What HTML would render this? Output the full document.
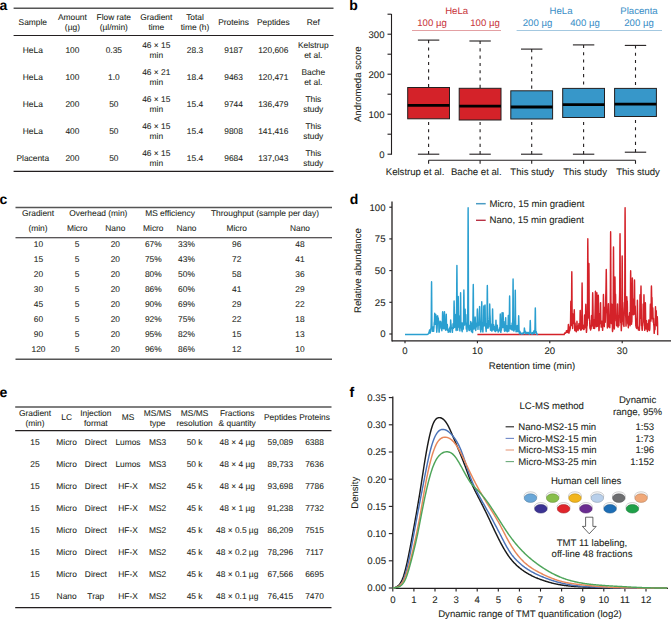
<!DOCTYPE html>
<html><head><meta charset="utf-8"><style>
html,body{margin:0;padding:0;background:#fff;}
svg text{text-rendering:geometricPrecision;} svg{display:block;font-family:"Liberation Sans", sans-serif;}
</style></head><body>
<svg width="671" height="619" viewBox="0 0 671 619">
<text x="-0.60" y="9.70" font-size="14" font-weight="bold" fill="#000">a</text>
<text x="349.20" y="9.80" font-size="14" font-weight="bold" fill="#000">b</text>
<text x="-0.50" y="203.70" font-size="14" font-weight="bold" fill="#000">c</text>
<text x="349.70" y="203.70" font-size="14" font-weight="bold" fill="#000">d</text>
<text x="-0.50" y="396.50" font-size="14" font-weight="bold" fill="#000">e</text>
<text x="349.50" y="396.70" font-size="14" font-weight="bold" fill="#000">f</text>
<line x1="13.60" y1="8.20" x2="333.50" y2="8.20" stroke="#555" stroke-width="1.5"/>
<line x1="13.60" y1="35.50" x2="333.50" y2="35.50" stroke="#231f20" stroke-width="1.1"/>
<line x1="13.60" y1="171.40" x2="333.50" y2="171.40" stroke="#231f20" stroke-width="1.1"/>
<text x="32.80" y="25.00" font-size="8.4" text-anchor="middle" fill="#231f20" stroke="#231f20" stroke-width="0.08">Sample</text>
<text x="72.40" y="20.00" font-size="8.4" text-anchor="middle" fill="#231f20" stroke="#231f20" stroke-width="0.08">Amount</text>
<text x="72.40" y="30.00" font-size="8.4" text-anchor="middle" fill="#231f20" stroke="#231f20" stroke-width="0.08">(µg)</text>
<text x="113.80" y="20.00" font-size="8.4" text-anchor="middle" fill="#231f20" stroke="#231f20" stroke-width="0.08">Flow rate</text>
<text x="113.80" y="30.00" font-size="8.4" text-anchor="middle" fill="#231f20" stroke="#231f20" stroke-width="0.08">(µl/min)</text>
<text x="156.30" y="20.00" font-size="8.4" text-anchor="middle" fill="#231f20" stroke="#231f20" stroke-width="0.08">Gradient</text>
<text x="156.30" y="30.00" font-size="8.4" text-anchor="middle" fill="#231f20" stroke="#231f20" stroke-width="0.08">time</text>
<text x="195.00" y="20.00" font-size="8.4" text-anchor="middle" fill="#231f20" stroke="#231f20" stroke-width="0.08">Total</text>
<text x="195.00" y="30.00" font-size="8.4" text-anchor="middle" fill="#231f20" stroke="#231f20" stroke-width="0.08">time (h)</text>
<text x="233.60" y="25.00" font-size="8.4" text-anchor="middle" fill="#231f20" stroke="#231f20" stroke-width="0.08">Proteins</text>
<text x="273.30" y="25.00" font-size="8.4" text-anchor="middle" fill="#231f20" stroke="#231f20" stroke-width="0.08">Peptides</text>
<text x="313.30" y="25.00" font-size="8.4" text-anchor="middle" fill="#231f20" stroke="#231f20" stroke-width="0.08">Ref</text>
<text x="32.80" y="52.90" font-size="8.4" text-anchor="middle" fill="#231f20" stroke="#231f20" stroke-width="0.08">HeLa</text>
<text x="72.40" y="52.90" font-size="8.4" text-anchor="middle" fill="#231f20" stroke="#231f20" stroke-width="0.08">100</text>
<text x="113.80" y="52.90" font-size="8.4" text-anchor="middle" fill="#231f20" stroke="#231f20" stroke-width="0.08">0.35</text>
<text x="156.30" y="47.90" font-size="8.4" text-anchor="middle" fill="#231f20" stroke="#231f20" stroke-width="0.08">46 × 15</text>
<text x="156.30" y="57.90" font-size="8.4" text-anchor="middle" fill="#231f20" stroke="#231f20" stroke-width="0.08">min</text>
<text x="195.00" y="52.90" font-size="8.4" text-anchor="middle" fill="#231f20" stroke="#231f20" stroke-width="0.08">28.3</text>
<text x="233.60" y="52.90" font-size="8.4" text-anchor="middle" fill="#231f20" stroke="#231f20" stroke-width="0.08">9187</text>
<text x="273.30" y="52.90" font-size="8.4" text-anchor="middle" fill="#231f20" stroke="#231f20" stroke-width="0.08">120,606</text>
<text x="313.30" y="47.90" font-size="8.4" text-anchor="middle" fill="#231f20" stroke="#231f20" stroke-width="0.08">Kelstrup</text>
<text x="313.30" y="57.90" font-size="8.4" text-anchor="middle" fill="#231f20" stroke="#231f20" stroke-width="0.08">et al.</text>
<text x="32.80" y="79.90" font-size="8.4" text-anchor="middle" fill="#231f20" stroke="#231f20" stroke-width="0.08">HeLa</text>
<text x="72.40" y="79.90" font-size="8.4" text-anchor="middle" fill="#231f20" stroke="#231f20" stroke-width="0.08">100</text>
<text x="113.80" y="79.90" font-size="8.4" text-anchor="middle" fill="#231f20" stroke="#231f20" stroke-width="0.08">1.0</text>
<text x="156.30" y="74.90" font-size="8.4" text-anchor="middle" fill="#231f20" stroke="#231f20" stroke-width="0.08">46 × 21</text>
<text x="156.30" y="84.90" font-size="8.4" text-anchor="middle" fill="#231f20" stroke="#231f20" stroke-width="0.08">min</text>
<text x="195.00" y="79.90" font-size="8.4" text-anchor="middle" fill="#231f20" stroke="#231f20" stroke-width="0.08">18.4</text>
<text x="233.60" y="79.90" font-size="8.4" text-anchor="middle" fill="#231f20" stroke="#231f20" stroke-width="0.08">9463</text>
<text x="273.30" y="79.90" font-size="8.4" text-anchor="middle" fill="#231f20" stroke="#231f20" stroke-width="0.08">120,471</text>
<text x="313.30" y="74.90" font-size="8.4" text-anchor="middle" fill="#231f20" stroke="#231f20" stroke-width="0.08">Bache</text>
<text x="313.30" y="84.90" font-size="8.4" text-anchor="middle" fill="#231f20" stroke="#231f20" stroke-width="0.08">et al.</text>
<text x="32.80" y="106.80" font-size="8.4" text-anchor="middle" fill="#231f20" stroke="#231f20" stroke-width="0.08">HeLa</text>
<text x="72.40" y="106.80" font-size="8.4" text-anchor="middle" fill="#231f20" stroke="#231f20" stroke-width="0.08">200</text>
<text x="113.80" y="106.80" font-size="8.4" text-anchor="middle" fill="#231f20" stroke="#231f20" stroke-width="0.08">50</text>
<text x="156.30" y="101.80" font-size="8.4" text-anchor="middle" fill="#231f20" stroke="#231f20" stroke-width="0.08">46 × 15</text>
<text x="156.30" y="111.80" font-size="8.4" text-anchor="middle" fill="#231f20" stroke="#231f20" stroke-width="0.08">min</text>
<text x="195.00" y="106.80" font-size="8.4" text-anchor="middle" fill="#231f20" stroke="#231f20" stroke-width="0.08">15.4</text>
<text x="233.60" y="106.80" font-size="8.4" text-anchor="middle" fill="#231f20" stroke="#231f20" stroke-width="0.08">9744</text>
<text x="273.30" y="106.80" font-size="8.4" text-anchor="middle" fill="#231f20" stroke="#231f20" stroke-width="0.08">136,479</text>
<text x="313.30" y="101.80" font-size="8.4" text-anchor="middle" fill="#231f20" stroke="#231f20" stroke-width="0.08">This</text>
<text x="313.30" y="111.80" font-size="8.4" text-anchor="middle" fill="#231f20" stroke="#231f20" stroke-width="0.08">study</text>
<text x="32.80" y="133.80" font-size="8.4" text-anchor="middle" fill="#231f20" stroke="#231f20" stroke-width="0.08">HeLa</text>
<text x="72.40" y="133.80" font-size="8.4" text-anchor="middle" fill="#231f20" stroke="#231f20" stroke-width="0.08">400</text>
<text x="113.80" y="133.80" font-size="8.4" text-anchor="middle" fill="#231f20" stroke="#231f20" stroke-width="0.08">50</text>
<text x="156.30" y="128.80" font-size="8.4" text-anchor="middle" fill="#231f20" stroke="#231f20" stroke-width="0.08">46 × 15</text>
<text x="156.30" y="138.80" font-size="8.4" text-anchor="middle" fill="#231f20" stroke="#231f20" stroke-width="0.08">min</text>
<text x="195.00" y="133.80" font-size="8.4" text-anchor="middle" fill="#231f20" stroke="#231f20" stroke-width="0.08">15.4</text>
<text x="233.60" y="133.80" font-size="8.4" text-anchor="middle" fill="#231f20" stroke="#231f20" stroke-width="0.08">9808</text>
<text x="273.30" y="133.80" font-size="8.4" text-anchor="middle" fill="#231f20" stroke="#231f20" stroke-width="0.08">141,416</text>
<text x="313.30" y="128.80" font-size="8.4" text-anchor="middle" fill="#231f20" stroke="#231f20" stroke-width="0.08">This</text>
<text x="313.30" y="138.80" font-size="8.4" text-anchor="middle" fill="#231f20" stroke="#231f20" stroke-width="0.08">study</text>
<text x="32.80" y="160.80" font-size="8.4" text-anchor="middle" fill="#231f20" stroke="#231f20" stroke-width="0.08">Placenta</text>
<text x="72.40" y="160.80" font-size="8.4" text-anchor="middle" fill="#231f20" stroke="#231f20" stroke-width="0.08">200</text>
<text x="113.80" y="160.80" font-size="8.4" text-anchor="middle" fill="#231f20" stroke="#231f20" stroke-width="0.08">50</text>
<text x="156.30" y="155.80" font-size="8.4" text-anchor="middle" fill="#231f20" stroke="#231f20" stroke-width="0.08">46 × 15</text>
<text x="156.30" y="165.80" font-size="8.4" text-anchor="middle" fill="#231f20" stroke="#231f20" stroke-width="0.08">min</text>
<text x="195.00" y="160.80" font-size="8.4" text-anchor="middle" fill="#231f20" stroke="#231f20" stroke-width="0.08">15.4</text>
<text x="233.60" y="160.80" font-size="8.4" text-anchor="middle" fill="#231f20" stroke="#231f20" stroke-width="0.08">9684</text>
<text x="273.30" y="160.80" font-size="8.4" text-anchor="middle" fill="#231f20" stroke="#231f20" stroke-width="0.08">137,043</text>
<text x="313.30" y="155.80" font-size="8.4" text-anchor="middle" fill="#231f20" stroke="#231f20" stroke-width="0.08">This</text>
<text x="313.30" y="165.80" font-size="8.4" text-anchor="middle" fill="#231f20" stroke="#231f20" stroke-width="0.08">study</text>
<line x1="15.50" y1="207.50" x2="332.00" y2="207.50" stroke="#555" stroke-width="1.5"/>
<line x1="15.50" y1="237.80" x2="332.00" y2="237.80" stroke="#231f20" stroke-width="1.1"/>
<line x1="15.50" y1="359.20" x2="332.00" y2="359.20" stroke="#555" stroke-width="1.5"/>
<text x="38.00" y="215.90" font-size="8.4" text-anchor="middle" fill="#231f20" stroke="#231f20" stroke-width="0.08">Gradient</text>
<text x="38.00" y="231.00" font-size="8.4" text-anchor="middle" fill="#231f20" stroke="#231f20" stroke-width="0.08">(min)</text>
<text x="98.30" y="215.90" font-size="8.4" text-anchor="middle" fill="#231f20" stroke="#231f20" stroke-width="0.08">Overhead (min)</text>
<text x="170.00" y="215.90" font-size="8.4" text-anchor="middle" fill="#231f20" stroke="#231f20" stroke-width="0.08">MS efficiency</text>
<text x="265.00" y="215.90" font-size="8.4" text-anchor="middle" fill="#231f20" stroke="#231f20" stroke-width="0.08">Throughput (sample per day)</text>
<text x="77.20" y="231.00" font-size="8.4" text-anchor="middle" fill="#231f20" stroke="#231f20" stroke-width="0.08">Micro</text>
<text x="115.30" y="231.00" font-size="8.4" text-anchor="middle" fill="#231f20" stroke="#231f20" stroke-width="0.08">Nano</text>
<text x="153.30" y="231.00" font-size="8.4" text-anchor="middle" fill="#231f20" stroke="#231f20" stroke-width="0.08">Micro</text>
<text x="186.50" y="231.00" font-size="8.4" text-anchor="middle" fill="#231f20" stroke="#231f20" stroke-width="0.08">Nano</text>
<text x="236.70" y="231.00" font-size="8.4" text-anchor="middle" fill="#231f20" stroke="#231f20" stroke-width="0.08">Micro</text>
<text x="300.00" y="231.00" font-size="8.4" text-anchor="middle" fill="#231f20" stroke="#231f20" stroke-width="0.08">Nano</text>
<text x="38.50" y="246.60" font-size="8.4" text-anchor="middle" fill="#231f20" stroke="#231f20" stroke-width="0.08">10</text>
<text x="77.20" y="246.60" font-size="8.4" text-anchor="middle" fill="#231f20" stroke="#231f20" stroke-width="0.08">5</text>
<text x="115.30" y="246.60" font-size="8.4" text-anchor="middle" fill="#231f20" stroke="#231f20" stroke-width="0.08">20</text>
<text x="153.30" y="246.60" font-size="8.4" text-anchor="middle" fill="#231f20" stroke="#231f20" stroke-width="0.08">67%</text>
<text x="186.50" y="246.60" font-size="8.4" text-anchor="middle" fill="#231f20" stroke="#231f20" stroke-width="0.08">33%</text>
<text x="236.70" y="246.60" font-size="8.4" text-anchor="middle" fill="#231f20" stroke="#231f20" stroke-width="0.08">96</text>
<text x="300.00" y="246.60" font-size="8.4" text-anchor="middle" fill="#231f20" stroke="#231f20" stroke-width="0.08">48</text>
<text x="38.50" y="261.70" font-size="8.4" text-anchor="middle" fill="#231f20" stroke="#231f20" stroke-width="0.08">15</text>
<text x="77.20" y="261.70" font-size="8.4" text-anchor="middle" fill="#231f20" stroke="#231f20" stroke-width="0.08">5</text>
<text x="115.30" y="261.70" font-size="8.4" text-anchor="middle" fill="#231f20" stroke="#231f20" stroke-width="0.08">20</text>
<text x="153.30" y="261.70" font-size="8.4" text-anchor="middle" fill="#231f20" stroke="#231f20" stroke-width="0.08">75%</text>
<text x="186.50" y="261.70" font-size="8.4" text-anchor="middle" fill="#231f20" stroke="#231f20" stroke-width="0.08">43%</text>
<text x="236.70" y="261.70" font-size="8.4" text-anchor="middle" fill="#231f20" stroke="#231f20" stroke-width="0.08">72</text>
<text x="300.00" y="261.70" font-size="8.4" text-anchor="middle" fill="#231f20" stroke="#231f20" stroke-width="0.08">41</text>
<text x="38.50" y="276.80" font-size="8.4" text-anchor="middle" fill="#231f20" stroke="#231f20" stroke-width="0.08">20</text>
<text x="77.20" y="276.80" font-size="8.4" text-anchor="middle" fill="#231f20" stroke="#231f20" stroke-width="0.08">5</text>
<text x="115.30" y="276.80" font-size="8.4" text-anchor="middle" fill="#231f20" stroke="#231f20" stroke-width="0.08">20</text>
<text x="153.30" y="276.80" font-size="8.4" text-anchor="middle" fill="#231f20" stroke="#231f20" stroke-width="0.08">80%</text>
<text x="186.50" y="276.80" font-size="8.4" text-anchor="middle" fill="#231f20" stroke="#231f20" stroke-width="0.08">50%</text>
<text x="236.70" y="276.80" font-size="8.4" text-anchor="middle" fill="#231f20" stroke="#231f20" stroke-width="0.08">58</text>
<text x="300.00" y="276.80" font-size="8.4" text-anchor="middle" fill="#231f20" stroke="#231f20" stroke-width="0.08">36</text>
<text x="38.50" y="291.90" font-size="8.4" text-anchor="middle" fill="#231f20" stroke="#231f20" stroke-width="0.08">30</text>
<text x="77.20" y="291.90" font-size="8.4" text-anchor="middle" fill="#231f20" stroke="#231f20" stroke-width="0.08">5</text>
<text x="115.30" y="291.90" font-size="8.4" text-anchor="middle" fill="#231f20" stroke="#231f20" stroke-width="0.08">20</text>
<text x="153.30" y="291.90" font-size="8.4" text-anchor="middle" fill="#231f20" stroke="#231f20" stroke-width="0.08">86%</text>
<text x="186.50" y="291.90" font-size="8.4" text-anchor="middle" fill="#231f20" stroke="#231f20" stroke-width="0.08">60%</text>
<text x="236.70" y="291.90" font-size="8.4" text-anchor="middle" fill="#231f20" stroke="#231f20" stroke-width="0.08">41</text>
<text x="300.00" y="291.90" font-size="8.4" text-anchor="middle" fill="#231f20" stroke="#231f20" stroke-width="0.08">29</text>
<text x="38.50" y="307.00" font-size="8.4" text-anchor="middle" fill="#231f20" stroke="#231f20" stroke-width="0.08">45</text>
<text x="77.20" y="307.00" font-size="8.4" text-anchor="middle" fill="#231f20" stroke="#231f20" stroke-width="0.08">5</text>
<text x="115.30" y="307.00" font-size="8.4" text-anchor="middle" fill="#231f20" stroke="#231f20" stroke-width="0.08">20</text>
<text x="153.30" y="307.00" font-size="8.4" text-anchor="middle" fill="#231f20" stroke="#231f20" stroke-width="0.08">90%</text>
<text x="186.50" y="307.00" font-size="8.4" text-anchor="middle" fill="#231f20" stroke="#231f20" stroke-width="0.08">69%</text>
<text x="236.70" y="307.00" font-size="8.4" text-anchor="middle" fill="#231f20" stroke="#231f20" stroke-width="0.08">29</text>
<text x="300.00" y="307.00" font-size="8.4" text-anchor="middle" fill="#231f20" stroke="#231f20" stroke-width="0.08">22</text>
<text x="38.50" y="322.10" font-size="8.4" text-anchor="middle" fill="#231f20" stroke="#231f20" stroke-width="0.08">60</text>
<text x="77.20" y="322.10" font-size="8.4" text-anchor="middle" fill="#231f20" stroke="#231f20" stroke-width="0.08">5</text>
<text x="115.30" y="322.10" font-size="8.4" text-anchor="middle" fill="#231f20" stroke="#231f20" stroke-width="0.08">20</text>
<text x="153.30" y="322.10" font-size="8.4" text-anchor="middle" fill="#231f20" stroke="#231f20" stroke-width="0.08">92%</text>
<text x="186.50" y="322.10" font-size="8.4" text-anchor="middle" fill="#231f20" stroke="#231f20" stroke-width="0.08">75%</text>
<text x="236.70" y="322.10" font-size="8.4" text-anchor="middle" fill="#231f20" stroke="#231f20" stroke-width="0.08">22</text>
<text x="300.00" y="322.10" font-size="8.4" text-anchor="middle" fill="#231f20" stroke="#231f20" stroke-width="0.08">18</text>
<text x="38.50" y="337.20" font-size="8.4" text-anchor="middle" fill="#231f20" stroke="#231f20" stroke-width="0.08">90</text>
<text x="77.20" y="337.20" font-size="8.4" text-anchor="middle" fill="#231f20" stroke="#231f20" stroke-width="0.08">5</text>
<text x="115.30" y="337.20" font-size="8.4" text-anchor="middle" fill="#231f20" stroke="#231f20" stroke-width="0.08">20</text>
<text x="153.30" y="337.20" font-size="8.4" text-anchor="middle" fill="#231f20" stroke="#231f20" stroke-width="0.08">95%</text>
<text x="186.50" y="337.20" font-size="8.4" text-anchor="middle" fill="#231f20" stroke="#231f20" stroke-width="0.08">82%</text>
<text x="236.70" y="337.20" font-size="8.4" text-anchor="middle" fill="#231f20" stroke="#231f20" stroke-width="0.08">15</text>
<text x="300.00" y="337.20" font-size="8.4" text-anchor="middle" fill="#231f20" stroke="#231f20" stroke-width="0.08">13</text>
<text x="38.50" y="352.30" font-size="8.4" text-anchor="middle" fill="#231f20" stroke="#231f20" stroke-width="0.08">120</text>
<text x="77.20" y="352.30" font-size="8.4" text-anchor="middle" fill="#231f20" stroke="#231f20" stroke-width="0.08">5</text>
<text x="115.30" y="352.30" font-size="8.4" text-anchor="middle" fill="#231f20" stroke="#231f20" stroke-width="0.08">20</text>
<text x="153.30" y="352.30" font-size="8.4" text-anchor="middle" fill="#231f20" stroke="#231f20" stroke-width="0.08">96%</text>
<text x="186.50" y="352.30" font-size="8.4" text-anchor="middle" fill="#231f20" stroke="#231f20" stroke-width="0.08">86%</text>
<text x="236.70" y="352.30" font-size="8.4" text-anchor="middle" fill="#231f20" stroke="#231f20" stroke-width="0.08">12</text>
<text x="300.00" y="352.30" font-size="8.4" text-anchor="middle" fill="#231f20" stroke="#231f20" stroke-width="0.08">10</text>
<line x1="15.20" y1="407.00" x2="331.50" y2="407.00" stroke="#555" stroke-width="1.5"/>
<line x1="15.20" y1="430.60" x2="331.50" y2="430.60" stroke="#231f20" stroke-width="1.1"/>
<line x1="15.20" y1="607.60" x2="331.50" y2="607.60" stroke="#231f20" stroke-width="1.1"/>
<text x="35.00" y="416.30" font-size="8.4" text-anchor="middle" fill="#231f20" stroke="#231f20" stroke-width="0.08">Gradient</text>
<text x="35.00" y="426.00" font-size="8.4" text-anchor="middle" fill="#231f20" stroke="#231f20" stroke-width="0.08">(min)</text>
<text x="66.60" y="420.30" font-size="8.4" text-anchor="middle" fill="#231f20" stroke="#231f20" stroke-width="0.08">LC</text>
<text x="95.80" y="416.30" font-size="8.4" text-anchor="middle" fill="#231f20" stroke="#231f20" stroke-width="0.08">Injection</text>
<text x="95.80" y="426.00" font-size="8.4" text-anchor="middle" fill="#231f20" stroke="#231f20" stroke-width="0.08">format</text>
<text x="128.00" y="420.30" font-size="8.4" text-anchor="middle" fill="#231f20" stroke="#231f20" stroke-width="0.08">MS</text>
<text x="157.60" y="416.30" font-size="8.4" text-anchor="middle" fill="#231f20" stroke="#231f20" stroke-width="0.08">MS/MS</text>
<text x="157.60" y="426.00" font-size="8.4" text-anchor="middle" fill="#231f20" stroke="#231f20" stroke-width="0.08">type</text>
<text x="194.60" y="416.30" font-size="8.4" text-anchor="middle" fill="#231f20" stroke="#231f20" stroke-width="0.08">MS/MS</text>
<text x="194.60" y="426.00" font-size="8.4" text-anchor="middle" fill="#231f20" stroke="#231f20" stroke-width="0.08">resolution</text>
<text x="237.20" y="416.30" font-size="8.4" text-anchor="middle" fill="#231f20" stroke="#231f20" stroke-width="0.08">Fractions</text>
<text x="237.20" y="426.00" font-size="8.4" text-anchor="middle" fill="#231f20" stroke="#231f20" stroke-width="0.08">& quantity</text>
<text x="280.30" y="420.30" font-size="8.4" text-anchor="middle" fill="#231f20" stroke="#231f20" stroke-width="0.08">Peptides</text>
<text x="314.50" y="420.30" font-size="8.4" text-anchor="middle" fill="#231f20" stroke="#231f20" stroke-width="0.08">Proteins</text>
<text x="35.00" y="444.70" font-size="8.4" text-anchor="middle" fill="#231f20" stroke="#231f20" stroke-width="0.08">15</text>
<text x="66.60" y="444.70" font-size="8.4" text-anchor="middle" fill="#231f20" stroke="#231f20" stroke-width="0.08">Micro</text>
<text x="95.80" y="444.70" font-size="8.4" text-anchor="middle" fill="#231f20" stroke="#231f20" stroke-width="0.08">Direct</text>
<text x="128.00" y="444.70" font-size="8.4" text-anchor="middle" fill="#231f20" stroke="#231f20" stroke-width="0.08">Lumos</text>
<text x="157.60" y="444.70" font-size="8.4" text-anchor="middle" fill="#231f20" stroke="#231f20" stroke-width="0.08">MS3</text>
<text x="194.60" y="444.70" font-size="8.4" text-anchor="middle" fill="#231f20" stroke="#231f20" stroke-width="0.08">50 k</text>
<text x="237.20" y="444.70" font-size="8.4" text-anchor="middle" fill="#231f20" stroke="#231f20" stroke-width="0.08">48 × 4 µg</text>
<text x="280.30" y="444.70" font-size="8.4" text-anchor="middle" fill="#231f20" stroke="#231f20" stroke-width="0.08">59,089</text>
<text x="314.50" y="444.70" font-size="8.4" text-anchor="middle" fill="#231f20" stroke="#231f20" stroke-width="0.08">6388</text>
<text x="35.00" y="466.74" font-size="8.4" text-anchor="middle" fill="#231f20" stroke="#231f20" stroke-width="0.08">25</text>
<text x="66.60" y="466.74" font-size="8.4" text-anchor="middle" fill="#231f20" stroke="#231f20" stroke-width="0.08">Micro</text>
<text x="95.80" y="466.74" font-size="8.4" text-anchor="middle" fill="#231f20" stroke="#231f20" stroke-width="0.08">Direct</text>
<text x="128.00" y="466.74" font-size="8.4" text-anchor="middle" fill="#231f20" stroke="#231f20" stroke-width="0.08">Lumos</text>
<text x="157.60" y="466.74" font-size="8.4" text-anchor="middle" fill="#231f20" stroke="#231f20" stroke-width="0.08">MS3</text>
<text x="194.60" y="466.74" font-size="8.4" text-anchor="middle" fill="#231f20" stroke="#231f20" stroke-width="0.08">50 k</text>
<text x="237.20" y="466.74" font-size="8.4" text-anchor="middle" fill="#231f20" stroke="#231f20" stroke-width="0.08">48 × 4 µg</text>
<text x="280.30" y="466.74" font-size="8.4" text-anchor="middle" fill="#231f20" stroke="#231f20" stroke-width="0.08">89,733</text>
<text x="314.50" y="466.74" font-size="8.4" text-anchor="middle" fill="#231f20" stroke="#231f20" stroke-width="0.08">7636</text>
<text x="35.00" y="488.78" font-size="8.4" text-anchor="middle" fill="#231f20" stroke="#231f20" stroke-width="0.08">15</text>
<text x="66.60" y="488.78" font-size="8.4" text-anchor="middle" fill="#231f20" stroke="#231f20" stroke-width="0.08">Micro</text>
<text x="95.80" y="488.78" font-size="8.4" text-anchor="middle" fill="#231f20" stroke="#231f20" stroke-width="0.08">Direct</text>
<text x="128.00" y="488.78" font-size="8.4" text-anchor="middle" fill="#231f20" stroke="#231f20" stroke-width="0.08">HF-X</text>
<text x="157.60" y="488.78" font-size="8.4" text-anchor="middle" fill="#231f20" stroke="#231f20" stroke-width="0.08">MS2</text>
<text x="194.60" y="488.78" font-size="8.4" text-anchor="middle" fill="#231f20" stroke="#231f20" stroke-width="0.08">45 k</text>
<text x="237.20" y="488.78" font-size="8.4" text-anchor="middle" fill="#231f20" stroke="#231f20" stroke-width="0.08">48 × 4 µg</text>
<text x="280.30" y="488.78" font-size="8.4" text-anchor="middle" fill="#231f20" stroke="#231f20" stroke-width="0.08">93,698</text>
<text x="314.50" y="488.78" font-size="8.4" text-anchor="middle" fill="#231f20" stroke="#231f20" stroke-width="0.08">7786</text>
<text x="35.00" y="510.82" font-size="8.4" text-anchor="middle" fill="#231f20" stroke="#231f20" stroke-width="0.08">15</text>
<text x="66.60" y="510.82" font-size="8.4" text-anchor="middle" fill="#231f20" stroke="#231f20" stroke-width="0.08">Micro</text>
<text x="95.80" y="510.82" font-size="8.4" text-anchor="middle" fill="#231f20" stroke="#231f20" stroke-width="0.08">Direct</text>
<text x="128.00" y="510.82" font-size="8.4" text-anchor="middle" fill="#231f20" stroke="#231f20" stroke-width="0.08">HF-X</text>
<text x="157.60" y="510.82" font-size="8.4" text-anchor="middle" fill="#231f20" stroke="#231f20" stroke-width="0.08">MS2</text>
<text x="194.60" y="510.82" font-size="8.4" text-anchor="middle" fill="#231f20" stroke="#231f20" stroke-width="0.08">45 k</text>
<text x="237.20" y="510.82" font-size="8.4" text-anchor="middle" fill="#231f20" stroke="#231f20" stroke-width="0.08">48 × 1 µg</text>
<text x="280.30" y="510.82" font-size="8.4" text-anchor="middle" fill="#231f20" stroke="#231f20" stroke-width="0.08">91,238</text>
<text x="314.50" y="510.82" font-size="8.4" text-anchor="middle" fill="#231f20" stroke="#231f20" stroke-width="0.08">7732</text>
<text x="35.00" y="532.86" font-size="8.4" text-anchor="middle" fill="#231f20" stroke="#231f20" stroke-width="0.08">15</text>
<text x="66.60" y="532.86" font-size="8.4" text-anchor="middle" fill="#231f20" stroke="#231f20" stroke-width="0.08">Micro</text>
<text x="95.80" y="532.86" font-size="8.4" text-anchor="middle" fill="#231f20" stroke="#231f20" stroke-width="0.08">Direct</text>
<text x="128.00" y="532.86" font-size="8.4" text-anchor="middle" fill="#231f20" stroke="#231f20" stroke-width="0.08">HF-X</text>
<text x="157.60" y="532.86" font-size="8.4" text-anchor="middle" fill="#231f20" stroke="#231f20" stroke-width="0.08">MS2</text>
<text x="194.60" y="532.86" font-size="8.4" text-anchor="middle" fill="#231f20" stroke="#231f20" stroke-width="0.08">45 k</text>
<text x="237.20" y="532.86" font-size="8.4" text-anchor="middle" fill="#231f20" stroke="#231f20" stroke-width="0.08">48 × 0.5 µg</text>
<text x="280.30" y="532.86" font-size="8.4" text-anchor="middle" fill="#231f20" stroke="#231f20" stroke-width="0.08">86,209</text>
<text x="314.50" y="532.86" font-size="8.4" text-anchor="middle" fill="#231f20" stroke="#231f20" stroke-width="0.08">7515</text>
<text x="35.00" y="554.90" font-size="8.4" text-anchor="middle" fill="#231f20" stroke="#231f20" stroke-width="0.08">15</text>
<text x="66.60" y="554.90" font-size="8.4" text-anchor="middle" fill="#231f20" stroke="#231f20" stroke-width="0.08">Micro</text>
<text x="95.80" y="554.90" font-size="8.4" text-anchor="middle" fill="#231f20" stroke="#231f20" stroke-width="0.08">Direct</text>
<text x="128.00" y="554.90" font-size="8.4" text-anchor="middle" fill="#231f20" stroke="#231f20" stroke-width="0.08">HF-X</text>
<text x="157.60" y="554.90" font-size="8.4" text-anchor="middle" fill="#231f20" stroke="#231f20" stroke-width="0.08">MS2</text>
<text x="194.60" y="554.90" font-size="8.4" text-anchor="middle" fill="#231f20" stroke="#231f20" stroke-width="0.08">45 k</text>
<text x="237.20" y="554.90" font-size="8.4" text-anchor="middle" fill="#231f20" stroke="#231f20" stroke-width="0.08">48 × 0.2 µg</text>
<text x="280.30" y="554.90" font-size="8.4" text-anchor="middle" fill="#231f20" stroke="#231f20" stroke-width="0.08">78,296</text>
<text x="314.50" y="554.90" font-size="8.4" text-anchor="middle" fill="#231f20" stroke="#231f20" stroke-width="0.08">7117</text>
<text x="35.00" y="576.94" font-size="8.4" text-anchor="middle" fill="#231f20" stroke="#231f20" stroke-width="0.08">15</text>
<text x="66.60" y="576.94" font-size="8.4" text-anchor="middle" fill="#231f20" stroke="#231f20" stroke-width="0.08">Micro</text>
<text x="95.80" y="576.94" font-size="8.4" text-anchor="middle" fill="#231f20" stroke="#231f20" stroke-width="0.08">Direct</text>
<text x="128.00" y="576.94" font-size="8.4" text-anchor="middle" fill="#231f20" stroke="#231f20" stroke-width="0.08">HF-X</text>
<text x="157.60" y="576.94" font-size="8.4" text-anchor="middle" fill="#231f20" stroke="#231f20" stroke-width="0.08">MS2</text>
<text x="194.60" y="576.94" font-size="8.4" text-anchor="middle" fill="#231f20" stroke="#231f20" stroke-width="0.08">45 k</text>
<text x="237.20" y="576.94" font-size="8.4" text-anchor="middle" fill="#231f20" stroke="#231f20" stroke-width="0.08">48 × 0.1 µg</text>
<text x="280.30" y="576.94" font-size="8.4" text-anchor="middle" fill="#231f20" stroke="#231f20" stroke-width="0.08">67,566</text>
<text x="314.50" y="576.94" font-size="8.4" text-anchor="middle" fill="#231f20" stroke="#231f20" stroke-width="0.08">6695</text>
<text x="35.00" y="598.98" font-size="8.4" text-anchor="middle" fill="#231f20" stroke="#231f20" stroke-width="0.08">15</text>
<text x="66.60" y="598.98" font-size="8.4" text-anchor="middle" fill="#231f20" stroke="#231f20" stroke-width="0.08">Nano</text>
<text x="95.80" y="598.98" font-size="8.4" text-anchor="middle" fill="#231f20" stroke="#231f20" stroke-width="0.08">Trap</text>
<text x="128.00" y="598.98" font-size="8.4" text-anchor="middle" fill="#231f20" stroke="#231f20" stroke-width="0.08">HF-X</text>
<text x="157.60" y="598.98" font-size="8.4" text-anchor="middle" fill="#231f20" stroke="#231f20" stroke-width="0.08">MS2</text>
<text x="194.60" y="598.98" font-size="8.4" text-anchor="middle" fill="#231f20" stroke="#231f20" stroke-width="0.08">45 k</text>
<text x="237.20" y="598.98" font-size="8.4" text-anchor="middle" fill="#231f20" stroke="#231f20" stroke-width="0.08">48 × 0.1 µg</text>
<text x="280.30" y="598.98" font-size="8.4" text-anchor="middle" fill="#231f20" stroke="#231f20" stroke-width="0.08">76,415</text>
<text x="314.50" y="598.98" font-size="8.4" text-anchor="middle" fill="#231f20" stroke="#231f20" stroke-width="0.08">7470</text>
<line x1="391.50" y1="14.00" x2="391.50" y2="154.70" stroke="#231f20" stroke-width="1.1"/>
<line x1="387.50" y1="154.20" x2="391.50" y2="154.20" stroke="#231f20" stroke-width="1.1"/>
<line x1="387.50" y1="134.20" x2="391.50" y2="134.20" stroke="#231f20" stroke-width="1.1"/>
<line x1="387.50" y1="114.20" x2="391.50" y2="114.20" stroke="#231f20" stroke-width="1.1"/>
<line x1="387.50" y1="94.20" x2="391.50" y2="94.20" stroke="#231f20" stroke-width="1.1"/>
<line x1="387.50" y1="74.20" x2="391.50" y2="74.20" stroke="#231f20" stroke-width="1.1"/>
<line x1="387.50" y1="54.20" x2="391.50" y2="54.20" stroke="#231f20" stroke-width="1.1"/>
<line x1="387.50" y1="34.20" x2="391.50" y2="34.20" stroke="#231f20" stroke-width="1.1"/>
<line x1="387.50" y1="14.20" x2="391.50" y2="14.20" stroke="#231f20" stroke-width="1.1"/>
<text x="384.50" y="157.63" font-size="9.6" text-anchor="end" fill="#231f20" stroke="#231f20" stroke-width="0.08">0</text>
<text x="384.50" y="117.63" font-size="9.6" text-anchor="end" fill="#231f20" stroke="#231f20" stroke-width="0.08">100</text>
<text x="384.50" y="77.63" font-size="9.6" text-anchor="end" fill="#231f20" stroke="#231f20" stroke-width="0.08">200</text>
<text x="384.50" y="37.63" font-size="9.6" text-anchor="end" fill="#231f20" stroke="#231f20" stroke-width="0.08">300</text>
<text x="0.00" y="3.43" font-size="9.6" text-anchor="middle" fill="#231f20" stroke="#231f20" stroke-width="0.08"></text>
<text transform="translate(357.3,84.2) rotate(-90)" font-size="9.6" text-anchor="middle" fill="#231f20" stroke="#231f20" stroke-width="0.08" y="3.43">Andromeda score</text>
<line x1="428.60" y1="40.10" x2="428.60" y2="87.50" stroke="#231f20" stroke-width="1.1" stroke-dasharray="3.1,4.2"/>
<line x1="428.60" y1="154.20" x2="428.60" y2="118.80" stroke="#231f20" stroke-width="1.1" stroke-dasharray="3.1,4.2"/>
<line x1="417.90" y1="40.10" x2="439.30" y2="40.10" stroke="#231f20" stroke-width="1.1"/>
<line x1="417.90" y1="154.20" x2="439.30" y2="154.20" stroke="#231f20" stroke-width="1.1"/>
<rect x="407.70" y="87.50" width="41.8" height="31.30" fill="#d42229" stroke="#231f20" stroke-width="1"/>
<line x1="407.70" y1="105.40" x2="449.50" y2="105.40" stroke="#000" stroke-width="2.8"/>
<line x1="480.10" y1="41.00" x2="480.10" y2="88.30" stroke="#231f20" stroke-width="1.1" stroke-dasharray="3.1,4.2"/>
<line x1="480.10" y1="154.20" x2="480.10" y2="120.00" stroke="#231f20" stroke-width="1.1" stroke-dasharray="3.1,4.2"/>
<line x1="469.40" y1="41.00" x2="490.80" y2="41.00" stroke="#231f20" stroke-width="1.1"/>
<line x1="469.40" y1="154.20" x2="490.80" y2="154.20" stroke="#231f20" stroke-width="1.1"/>
<rect x="459.20" y="88.30" width="41.8" height="31.70" fill="#d42229" stroke="#231f20" stroke-width="1"/>
<line x1="459.20" y1="106.20" x2="501.00" y2="106.20" stroke="#000" stroke-width="2.8"/>
<line x1="531.70" y1="49.10" x2="531.70" y2="90.80" stroke="#231f20" stroke-width="1.1" stroke-dasharray="3.1,4.2"/>
<line x1="531.70" y1="154.20" x2="531.70" y2="119.00" stroke="#231f20" stroke-width="1.1" stroke-dasharray="3.1,4.2"/>
<line x1="521.00" y1="49.10" x2="542.40" y2="49.10" stroke="#231f20" stroke-width="1.1"/>
<line x1="521.00" y1="154.20" x2="542.40" y2="154.20" stroke="#231f20" stroke-width="1.1"/>
<rect x="510.80" y="90.80" width="41.8" height="28.20" fill="#3797c9" stroke="#231f20" stroke-width="1"/>
<line x1="510.80" y1="107.00" x2="552.60" y2="107.00" stroke="#000" stroke-width="2.8"/>
<line x1="583.60" y1="44.90" x2="583.60" y2="88.40" stroke="#231f20" stroke-width="1.1" stroke-dasharray="3.1,4.2"/>
<line x1="583.60" y1="154.20" x2="583.60" y2="117.50" stroke="#231f20" stroke-width="1.1" stroke-dasharray="3.1,4.2"/>
<line x1="572.90" y1="44.90" x2="594.30" y2="44.90" stroke="#231f20" stroke-width="1.1"/>
<line x1="572.90" y1="154.20" x2="594.30" y2="154.20" stroke="#231f20" stroke-width="1.1"/>
<rect x="562.70" y="88.40" width="41.8" height="29.10" fill="#3797c9" stroke="#231f20" stroke-width="1"/>
<line x1="562.70" y1="104.70" x2="604.50" y2="104.70" stroke="#000" stroke-width="2.8"/>
<line x1="635.50" y1="45.40" x2="635.50" y2="88.40" stroke="#231f20" stroke-width="1.1" stroke-dasharray="3.1,4.2"/>
<line x1="635.50" y1="152.20" x2="635.50" y2="116.50" stroke="#231f20" stroke-width="1.1" stroke-dasharray="3.1,4.2"/>
<line x1="624.80" y1="45.40" x2="646.20" y2="45.40" stroke="#231f20" stroke-width="1.1"/>
<line x1="624.80" y1="152.20" x2="646.20" y2="152.20" stroke="#231f20" stroke-width="1.1"/>
<rect x="614.60" y="88.40" width="41.8" height="28.10" fill="#3797c9" stroke="#231f20" stroke-width="1"/>
<line x1="614.60" y1="104.20" x2="656.40" y2="104.20" stroke="#000" stroke-width="2.8"/>
<line x1="428.60" y1="160.30" x2="635.50" y2="160.30" stroke="#231f20" stroke-width="1.1"/>
<line x1="428.60" y1="160.30" x2="428.60" y2="163.80" stroke="#231f20" stroke-width="1.1"/>
<line x1="480.10" y1="160.30" x2="480.10" y2="163.80" stroke="#231f20" stroke-width="1.1"/>
<line x1="531.70" y1="160.30" x2="531.70" y2="163.80" stroke="#231f20" stroke-width="1.1"/>
<line x1="583.60" y1="160.30" x2="583.60" y2="163.80" stroke="#231f20" stroke-width="1.1"/>
<line x1="635.50" y1="160.30" x2="635.50" y2="163.80" stroke="#231f20" stroke-width="1.1"/>
<text x="415.10" y="174.93" font-size="9.6" text-anchor="middle" fill="#231f20" stroke="#231f20" stroke-width="0.08">Kelstrup et al.</text>
<text x="476.30" y="174.93" font-size="9.6" text-anchor="middle" fill="#231f20" stroke="#231f20" stroke-width="0.08">Bache et al.</text>
<text x="532.20" y="174.93" font-size="9.6" text-anchor="middle" fill="#231f20" stroke="#231f20" stroke-width="0.08">This study</text>
<text x="585.10" y="174.93" font-size="9.6" text-anchor="middle" fill="#231f20" stroke="#231f20" stroke-width="0.08">This study</text>
<text x="638.00" y="174.93" font-size="9.6" text-anchor="middle" fill="#231f20" stroke="#231f20" stroke-width="0.08">This study</text>
<text x="456.60" y="14.33" font-size="9.6" text-anchor="middle" fill="#c9373d" stroke="#c9373d" stroke-width="0.05">HeLa</text>
<text x="432.00" y="26.13" font-size="9.6" text-anchor="middle" fill="#c9373d" stroke="#c9373d" stroke-width="0.05">100 µg</text>
<text x="485.00" y="26.13" font-size="9.6" text-anchor="middle" fill="#c9373d" stroke="#c9373d" stroke-width="0.05">100 µg</text>
<line x1="412.00" y1="30.50" x2="501.00" y2="30.50" stroke="#e3a0a3" stroke-width="1"/>
<text x="561.00" y="14.33" font-size="9.6" text-anchor="middle" fill="#3c90c8" stroke="#3c90c8" stroke-width="0.05">HeLa</text>
<text x="639.00" y="14.33" font-size="9.6" text-anchor="middle" fill="#3c90c8" stroke="#3c90c8" stroke-width="0.05">Placenta</text>
<text x="537.50" y="26.13" font-size="9.6" text-anchor="middle" fill="#3c90c8" stroke="#3c90c8" stroke-width="0.05">200 µg</text>
<text x="585.00" y="26.13" font-size="9.6" text-anchor="middle" fill="#3c90c8" stroke="#3c90c8" stroke-width="0.05">400 µg</text>
<text x="639.00" y="26.13" font-size="9.6" text-anchor="middle" fill="#3c90c8" stroke="#3c90c8" stroke-width="0.05">200 µg</text>
<line x1="516.60" y1="30.50" x2="662.00" y2="30.50" stroke="#a3c8e0" stroke-width="1"/>
<line x1="392.00" y1="201.50" x2="392.00" y2="341.50" stroke="#231f20" stroke-width="1.3"/>
<line x1="392.00" y1="340.90" x2="671.00" y2="340.90" stroke="#231f20" stroke-width="1.3"/>
<line x1="389.30" y1="334.00" x2="392.00" y2="334.00" stroke="#231f20" stroke-width="1.1"/>
<text x="385.50" y="337.43" font-size="9.6" text-anchor="end" fill="#231f20" stroke="#231f20" stroke-width="0.08">0</text>
<line x1="389.30" y1="302.30" x2="392.00" y2="302.30" stroke="#231f20" stroke-width="1.1"/>
<text x="385.50" y="305.73" font-size="9.6" text-anchor="end" fill="#231f20" stroke="#231f20" stroke-width="0.08">25</text>
<line x1="389.30" y1="270.60" x2="392.00" y2="270.60" stroke="#231f20" stroke-width="1.1"/>
<text x="385.50" y="274.03" font-size="9.6" text-anchor="end" fill="#231f20" stroke="#231f20" stroke-width="0.08">50</text>
<line x1="389.30" y1="238.90" x2="392.00" y2="238.90" stroke="#231f20" stroke-width="1.1"/>
<text x="385.50" y="242.33" font-size="9.6" text-anchor="end" fill="#231f20" stroke="#231f20" stroke-width="0.08">75</text>
<line x1="389.30" y1="207.20" x2="392.00" y2="207.20" stroke="#231f20" stroke-width="1.1"/>
<text x="385.50" y="210.63" font-size="9.6" text-anchor="end" fill="#231f20" stroke="#231f20" stroke-width="0.08">100</text>
<line x1="405.00" y1="340.90" x2="405.00" y2="343.20" stroke="#231f20" stroke-width="1.1"/>
<text x="405.00" y="354.23" font-size="9.6" text-anchor="middle" fill="#231f20" stroke="#231f20" stroke-width="0.08">0</text>
<line x1="477.40" y1="340.90" x2="477.40" y2="343.20" stroke="#231f20" stroke-width="1.1"/>
<text x="477.40" y="354.23" font-size="9.6" text-anchor="middle" fill="#231f20" stroke="#231f20" stroke-width="0.08">10</text>
<line x1="549.80" y1="340.90" x2="549.80" y2="343.20" stroke="#231f20" stroke-width="1.1"/>
<text x="549.80" y="354.23" font-size="9.6" text-anchor="middle" fill="#231f20" stroke="#231f20" stroke-width="0.08">20</text>
<line x1="622.20" y1="340.90" x2="622.20" y2="343.20" stroke="#231f20" stroke-width="1.1"/>
<text x="622.20" y="354.23" font-size="9.6" text-anchor="middle" fill="#231f20" stroke="#231f20" stroke-width="0.08">30</text>
<text x="532.00" y="368.63" font-size="9.6" text-anchor="middle" fill="#231f20" stroke="#231f20" stroke-width="0.08">Retention time (min)</text>
<text transform="translate(358,270.6) rotate(-90)" font-size="9.6" text-anchor="middle" fill="#231f20" stroke="#231f20" stroke-width="0.08" y="3.43">Relative abundance</text>
<line x1="476.00" y1="203.70" x2="485.70" y2="203.70" stroke="#4a9cc4" stroke-width="1.5"/>
<line x1="476.00" y1="220.30" x2="485.70" y2="220.30" stroke="#b83245" stroke-width="1.4"/>
<text x="489.50" y="206.93" font-size="9.6" text-anchor="start" fill="#231f20" stroke="#231f20" stroke-width="0.08">Micro, 15 min gradient</text>
<text x="489.50" y="223.23" font-size="9.6" text-anchor="start" fill="#231f20" stroke="#231f20" stroke-width="0.08">Nano, 15 min gradient</text>
<path d="M477.40,334.50 L477.49,334.50 L477.57,334.50 L477.66,334.50 L477.75,334.50 L477.83,334.50 L477.92,334.50 L478.01,334.50 L478.10,334.50 L478.18,334.50 L478.27,334.50 L478.36,334.50 L478.44,334.50 L478.53,334.50 L478.62,334.50 L478.70,334.50 L478.79,334.50 L478.88,334.50 L478.96,334.50 L479.05,334.50 L479.14,334.50 L479.22,334.50 L479.31,334.50 L479.40,334.50 L479.49,334.50 L479.57,334.50 L479.66,334.50 L479.75,334.50 L479.83,334.50 L479.92,334.50 L480.01,334.50 L480.09,334.50 L480.18,334.50 L480.27,334.50 L480.35,334.50 L480.44,334.50 L480.53,334.50 L480.61,334.50 L480.70,334.50 L480.79,334.50 L480.88,334.50 L480.96,334.50 L481.05,334.50 L481.14,334.50 L481.22,334.50 L481.31,334.50 L481.40,334.50 L481.48,334.50 L481.57,334.50 L481.66,334.50 L481.74,334.50 L481.83,334.50 L481.92,334.50 L482.00,334.50 L482.09,334.50 L482.18,334.50 L482.27,334.50 L482.35,334.50 L482.44,334.50 L482.53,334.50 L482.61,334.50 L482.70,334.50 L482.79,334.50 L482.87,334.50 L482.96,334.50 L483.05,334.50 L483.13,334.50 L483.22,334.50 L483.31,334.50 L483.39,334.50 L483.48,334.50 L483.57,334.50 L483.66,334.50 L483.74,334.50 L483.83,334.50 L483.92,334.50 L484.00,334.50 L484.09,334.50 L484.18,334.50 L484.26,334.50 L484.35,334.50 L484.44,334.50 L484.52,334.50 L484.61,334.50 L484.70,334.50 L484.78,334.50 L484.87,334.50 L484.96,334.50 L485.05,334.50 L485.13,334.50 L485.22,334.50 L485.31,334.50 L485.39,334.50 L485.48,334.50 L485.57,334.50 L485.65,334.50 L485.74,334.50 L485.83,334.50 L485.91,334.50 L486.00,334.50 L486.09,334.50 L486.17,334.50 L486.26,334.50 L486.35,334.50 L486.44,334.50 L486.52,334.50 L486.61,334.50 L486.70,334.50 L486.78,334.50 L486.87,334.50 L486.96,334.50 L487.04,334.50 L487.13,334.50 L487.22,334.50 L487.30,334.50 L487.39,334.50 L487.48,334.50 L487.56,334.50 L487.65,334.50 L487.74,334.50 L487.83,334.50 L487.91,334.50 L488.00,334.50 L488.09,334.50 L488.17,334.50 L488.26,334.50 L488.35,334.50 L488.43,334.50 L488.52,334.50 L488.61,334.50 L488.69,334.50 L488.78,334.50 L488.87,334.50 L488.96,334.50 L489.04,334.50 L489.13,334.50 L489.22,334.50 L489.30,334.50 L489.39,334.50 L489.48,334.50 L489.56,334.50 L489.65,334.50 L489.74,334.50 L489.82,334.50 L489.91,334.50 L490.00,334.50 L490.08,334.50 L490.17,334.50 L490.26,334.50 L490.35,334.50 L490.43,334.50 L490.52,334.50 L490.61,334.50 L490.69,334.50 L490.78,334.50 L490.87,334.50 L490.95,334.50 L491.04,334.50 L491.13,334.50 L491.21,334.50 L491.30,334.50 L491.39,334.50 L491.47,334.50 L491.56,334.50 L491.65,334.50 L491.74,334.50 L491.82,334.50 L491.91,334.50 L492.00,334.50 L492.08,334.50 L492.17,334.50 L492.26,334.50 L492.34,334.50 L492.43,334.50 L492.52,334.50 L492.60,334.50 L492.69,334.50 L492.78,334.50 L492.86,334.50 L492.95,334.50 L493.04,334.50 L493.13,334.50 L493.21,334.50 L493.30,334.50 L493.39,334.50 L493.47,334.50 L493.56,334.50 L493.65,334.50 L493.73,334.50 L493.82,334.50 L493.91,334.50 L493.99,334.50 L494.08,334.50 L494.17,334.50 L494.25,334.50 L494.34,334.50 L494.43,334.50 L494.52,334.50 L494.60,334.50 L494.69,334.50 L494.78,334.50 L494.86,334.50 L494.95,334.50 L495.04,334.50 L495.12,334.50 L495.21,334.50 L495.30,334.50 L495.38,334.50 L495.47,334.50 L495.56,334.50 L495.64,334.50 L495.73,334.50 L495.82,334.50 L495.91,334.50 L495.99,334.50 L496.08,334.50 L496.17,334.50 L496.25,334.50 L496.34,334.50 L496.43,334.50 L496.51,334.50 L496.60,334.50 L496.69,334.50 L496.77,334.50 L496.86,334.50 L496.95,334.50 L497.03,334.50 L497.12,334.50 L497.21,334.50 L497.30,334.50 L497.38,334.50 L497.47,334.50 L497.56,334.50 L497.64,334.50 L497.73,334.50 L497.82,334.50 L497.90,334.50 L497.99,334.50 L498.08,334.50 L498.16,334.50 L498.25,334.50 L498.34,334.50 L498.42,334.50 L498.51,334.50 L498.60,334.50 L498.69,334.50 L498.77,334.50 L498.86,334.50 L498.95,334.50 L499.03,334.50 L499.12,334.50 L499.21,334.50 L499.29,334.50 L499.38,334.50 L499.47,334.50 L499.55,334.50 L499.64,334.50 L499.73,334.50 L499.82,334.50 L499.90,334.50 L499.99,334.50 L500.08,334.50 L500.16,334.50 L500.25,334.50 L500.34,334.50 L500.42,334.50 L500.51,334.50 L500.60,334.50 L500.68,334.50 L500.77,334.50 L500.86,334.50 L500.94,334.50 L501.03,334.50 L501.12,334.50 L501.21,334.50 L501.29,334.50 L501.38,334.50 L501.47,334.50 L501.55,334.50 L501.64,334.50 L501.73,334.50 L501.81,334.50 L501.90,334.50 L501.99,334.50 L502.07,334.50 L502.16,334.50 L502.25,334.50 L502.33,334.50 L502.42,334.50 L502.51,334.50 L502.60,334.50 L502.68,334.50 L502.77,334.50 L502.86,334.50 L502.94,334.50 L503.03,334.50 L503.12,334.50 L503.20,334.50 L503.29,334.50 L503.38,334.50 L503.46,334.50 L503.55,334.50 L503.64,334.50 L503.72,334.50 L503.81,334.50 L503.90,334.50 L503.99,334.50 L504.07,334.50 L504.16,334.50 L504.25,334.50 L504.33,334.50 L504.42,334.50 L504.51,334.50 L504.59,334.50 L504.68,334.50 L504.77,334.50 L504.85,334.50 L504.94,334.50 L505.03,334.50 L505.11,334.50 L505.20,334.50 L505.29,334.50 L505.38,334.50 L505.46,334.50 L505.55,334.50 L505.64,334.50 L505.72,334.50 L505.81,334.50 L505.90,334.50 L505.98,334.50 L506.07,334.50 L506.16,334.50 L506.24,334.50 L506.33,334.50 L506.42,334.50 L506.50,334.50 L506.59,334.50 L506.68,334.50 L506.77,334.50 L506.85,334.50 L506.94,334.50 L507.03,334.50 L507.11,334.50 L507.20,334.50 L507.29,334.50 L507.37,334.50 L507.46,334.50 L507.55,334.50 L507.63,334.50 L507.72,334.50 L507.81,334.50 L507.89,334.50 L507.98,334.50 L508.07,334.50 L508.16,334.50 L508.24,334.50 L508.33,334.50 L508.42,334.50 L508.50,334.50 L508.59,334.50 L508.68,334.50 L508.76,334.50 L508.85,334.50 L508.94,334.50 L509.02,334.50 L509.11,334.50 L509.20,334.50 L509.28,334.50 L509.37,334.50 L509.46,334.50 L509.55,334.50 L509.63,334.50 L509.72,334.50 L509.81,334.50 L509.89,334.50 L509.98,334.50 L510.07,334.50 L510.15,334.50 L510.24,334.50 L510.33,334.50 L510.41,334.50 L510.50,334.50 L510.59,334.50 L510.68,334.50 L510.76,334.50 L510.85,334.50 L510.94,334.50 L511.02,334.50 L511.11,334.50 L511.20,334.50 L511.28,334.50 L511.37,334.50 L511.46,334.50 L511.54,334.50 L511.63,334.50 L511.72,334.50 L511.80,334.50 L511.89,334.50 L511.98,334.50 L512.07,334.50 L512.15,334.50 L512.24,334.50 L512.33,334.50 L512.41,334.50 L512.50,334.50 L512.59,334.50 L512.67,334.50 L512.76,334.50 L512.85,334.50 L512.93,334.50 L513.02,334.50 L513.11,334.50 L513.19,334.50 L513.28,334.50 L513.37,334.50 L513.46,334.50 L513.54,334.50 L513.63,334.50 L513.72,334.50 L513.80,334.50 L513.89,334.50 L513.98,334.50 L514.06,334.50 L514.15,334.50 L514.24,334.50 L514.32,334.50 L514.41,334.50 L514.50,334.50 L514.58,334.50 L514.67,334.50 L514.76,334.50 L514.85,334.50 L514.93,334.50 L515.02,334.50 L515.11,334.50 L515.19,334.50 L515.28,334.50 L515.37,334.50 L515.45,334.50 L515.54,334.50 L515.63,334.50 L515.71,334.50 L515.80,334.50 L515.89,334.50 L515.97,334.50 L516.06,334.50 L516.15,334.50 L516.24,334.50 L516.32,334.50 L516.41,334.50 L516.50,334.50 L516.58,334.50 L516.67,334.50 L516.76,334.50 L516.84,334.50 L516.93,334.50 L517.02,334.50 L517.10,334.50 L517.19,334.50 L517.28,334.50 L517.36,334.50 L517.45,334.50 L517.54,334.50 L517.63,334.50 L517.71,334.50 L517.80,334.50 L517.89,334.50 L517.97,334.50 L518.06,334.50 L518.15,334.50 L518.23,334.50 L518.32,334.50 L518.41,334.50 L518.49,334.50 L518.58,334.50 L518.67,334.50 L518.75,334.50 L518.84,334.50 L518.93,334.50 L519.02,334.50 L519.10,334.50 L519.19,334.50 L519.28,334.50 L519.36,334.50 L519.45,334.50 L519.54,334.50 L519.62,334.50 L519.71,334.50 L519.80,334.50 L519.88,334.50 L519.97,334.50 L520.06,334.50 L520.14,334.50 L520.23,334.50 L520.32,334.50 L520.41,334.50 L520.49,334.50 L520.58,334.50 L520.67,334.50 L520.75,334.50 L520.84,334.50 L520.93,334.50 L521.01,334.50 L521.10,334.50 L521.19,334.50 L521.27,334.50 L521.36,334.50 L521.45,334.50 L521.54,334.50 L521.62,334.50 L521.71,334.50 L521.80,334.50 L521.88,334.50 L521.97,334.50 L522.06,334.50 L522.14,334.50 L522.23,334.50 L522.32,334.50 L522.40,334.50 L522.49,334.50 L522.58,334.50 L522.66,334.50 L522.75,334.50 L522.84,334.50 L522.93,334.50 L523.01,334.50 L523.10,334.50 L523.19,334.50 L523.27,334.50 L523.36,334.50 L523.45,334.50 L523.53,334.50 L523.62,334.50 L523.71,334.50 L523.79,334.50 L523.88,334.50 L523.97,334.50 L524.05,334.50 L524.14,334.50 L524.23,334.50 L524.32,334.50 L524.40,334.50 L524.49,334.50 L524.58,334.50 L524.66,334.50 L524.75,334.50 L524.84,334.50 L524.92,334.50 L525.01,334.50 L525.10,334.50 L525.18,334.50 L525.27,334.50 L525.36,334.50 L525.44,334.50 L525.53,334.50 L525.62,334.50 L525.71,334.50 L525.79,334.50 L525.88,334.50 L525.97,334.50 L526.05,334.50 L526.14,334.50 L526.23,334.50 L526.31,334.50 L526.40,334.50 L526.49,334.50 L526.57,334.50 L526.66,334.50 L526.75,334.50 L526.83,334.50 L526.92,334.50 L527.01,334.50 L527.10,334.50 L527.18,334.50 L527.27,334.50 L527.36,334.50 L527.44,334.50 L527.53,334.50 L527.62,334.50 L527.70,334.50 L527.79,334.50 L527.88,334.50 L527.96,334.50 L528.05,334.50 L528.14,334.50 L528.22,334.50 L528.31,334.50 L528.40,334.50 L528.49,334.50 L528.57,334.50 L528.66,334.50 L528.75,334.50 L528.83,334.50 L528.92,334.50 L529.01,334.50 L529.09,334.50 L529.18,334.50 L529.27,334.50 L529.35,334.50 L529.44,334.50 L529.53,334.50 L529.61,334.50 L529.70,334.50 L529.79,334.50 L529.88,334.50 L529.96,334.50 L530.05,334.50 L530.14,334.50 L530.22,334.50 L530.31,334.50 L530.40,334.50 L530.48,334.50 L530.57,334.50 L530.66,334.50 L530.74,334.50 L530.83,334.50 L530.92,334.50 L531.00,334.50 L531.09,334.50 L531.18,334.50 L531.27,334.50 L531.35,334.50 L531.44,334.50 L531.53,334.50 L531.61,334.50 L531.70,334.50 L531.79,334.50 L531.87,334.50 L531.96,334.50 L532.05,334.50 L532.13,334.50 L532.22,334.50 L532.31,334.50 L532.40,334.50 L532.48,334.50 L532.57,334.50 L532.66,334.50 L532.74,334.50 L532.83,334.50 L532.92,334.50 L533.00,334.50 L533.09,334.50 L533.18,334.50 L533.26,334.50 L533.35,334.50 L533.44,334.50 L533.52,334.50 L533.61,334.50 L533.70,334.50 L533.79,334.50 L533.87,334.50 L533.96,334.50 L534.05,334.50 L534.13,334.50 L534.22,334.50 L534.31,334.50 L534.39,334.50 L534.48,334.50 L534.57,334.50 L534.65,334.50 L534.74,334.50 L534.83,334.50 L534.91,334.50 L535.00,334.50 L535.09,334.50 L535.18,334.50 L535.26,334.50 L535.35,334.50 L535.44,334.50 L535.52,334.50 L535.61,334.50 L535.70,334.50 L535.78,334.50 L535.87,334.50 L535.96,334.50 L536.04,334.50 L536.13,334.50 L536.22,334.50 L536.30,334.50 L536.39,334.50 L536.48,334.50 L536.57,334.50 L536.65,334.50 L536.74,334.50 L536.83,334.50 L536.91,334.50 L537.00,334.50 L537.09,334.50 L537.17,334.50 L537.26,334.50 L537.35,334.50 L537.43,334.50 L537.52,334.50 L537.61,334.50 L537.69,334.50 L537.78,334.50 L537.87,334.50 L537.96,334.50 L538.04,334.50 L538.13,334.50 L538.22,334.50 L538.30,334.50 L538.39,334.50 L538.48,334.50 L538.56,334.50 L538.65,334.50 L538.74,334.50 L538.82,334.50 L538.91,334.50 L539.00,334.50 L539.08,334.50 L539.17,334.50 L539.26,334.50 L539.35,334.50 L539.43,334.50 L539.52,334.50 L539.61,334.50 L539.69,334.50 L539.78,334.50 L539.87,334.50 L539.95,334.50 L540.04,334.50 L540.13,334.50 L540.21,334.50 L540.30,334.50 L540.39,334.50 L540.47,334.50 L540.56,334.50 L540.65,334.50 L540.74,334.50 L540.82,334.50 L540.91,334.50 L541.00,334.50 L541.08,334.50 L541.17,334.50 L541.26,334.50 L541.34,334.50 L541.43,334.50 L541.52,334.50 L541.60,334.50 L541.69,334.50 L541.78,334.50 L541.86,334.50 L541.95,334.50 L542.04,334.50 L542.13,334.50 L542.21,334.50 L542.30,334.50 L542.39,334.50 L542.47,334.50 L542.56,334.50 L542.65,334.50 L542.73,334.50 L542.82,334.50 L542.91,334.50 L542.99,334.50 L543.08,334.50 L543.17,334.50 L543.26,334.50 L543.34,334.50 L543.43,334.50 L543.52,334.50 L543.60,334.50 L543.69,334.50 L543.78,334.50 L543.86,334.50 L543.95,334.50 L544.04,334.50 L544.12,334.50 L544.21,334.50 L544.30,334.50 L544.38,334.50 L544.47,334.50 L544.56,334.50 L544.65,334.50 L544.73,334.50 L544.82,334.50 L544.91,334.50 L544.99,334.50 L545.08,334.50 L545.17,334.50 L545.25,334.50 L545.34,334.50 L545.43,334.50 L545.51,334.50 L545.60,334.50 L545.69,334.50 L545.77,334.50 L545.86,334.50 L545.95,334.50 L546.04,334.50 L546.12,334.50 L546.21,334.50 L546.30,334.50 L546.38,334.50 L546.47,334.50 L546.56,334.50 L546.64,334.50 L546.73,334.50 L546.82,334.50 L546.90,334.50 L546.99,334.50 L547.08,334.50 L547.16,334.50 L547.25,334.50 L547.34,334.50 L547.43,334.50 L547.51,334.50 L547.60,334.50 L547.69,334.50 L547.77,334.50 L547.86,334.50 L547.95,334.50 L548.03,334.50 L548.12,334.50 L548.21,334.50 L548.29,334.50 L548.38,334.50 L548.47,334.50 L548.55,334.50 L548.64,334.50 L548.73,334.50 L548.82,334.50 L548.90,334.50 L548.99,334.50 L549.08,334.50 L549.16,334.50 L549.25,334.50 L549.34,334.50 L549.42,334.50 L549.51,334.50 L549.60,334.50 L549.68,334.50 L549.77,334.50 L549.86,334.50 L549.94,334.50 L550.03,334.50 L550.12,334.50 L550.21,334.50 L550.29,334.50 L550.38,334.50 L550.47,334.50 L550.55,334.50 L550.64,334.50 L550.73,334.50 L550.81,334.50 L550.90,334.50 L550.99,334.50 L551.07,334.50 L551.16,334.50 L551.25,334.50 L551.33,334.50 L551.42,334.50 L551.51,334.50 L551.60,334.50 L551.68,334.50 L551.77,334.50 L551.86,334.50 L551.94,334.50 L552.03,334.50 L552.12,334.50 L552.20,334.50 L552.29,334.50 L552.38,334.50 L552.46,334.50 L552.55,334.50 L552.64,334.50 L552.72,334.50 L552.81,334.50 L552.90,334.50 L552.99,334.50 L553.07,334.50 L553.16,334.50 L553.25,334.50 L553.33,334.50 L553.42,334.50 L553.51,334.50 L553.59,334.50 L553.68,334.50 L553.77,334.50 L553.85,334.50 L553.94,334.50 L554.03,334.50 L554.12,334.50 L554.20,334.50 L554.29,334.50 L554.38,334.50 L554.46,334.50 L554.55,334.50 L554.64,334.50 L554.72,334.50 L554.81,334.50 L554.90,334.50 L554.98,334.50 L555.07,334.50 L555.16,334.50 L555.24,334.50 L555.33,334.50 L555.42,334.50 L555.51,334.50 L555.59,334.50 L555.68,334.50 L555.77,334.50 L555.85,334.50 L555.94,334.50 L556.03,334.50 L556.11,334.50 L556.20,334.50 L556.29,334.50 L556.37,334.50 L556.46,334.50 L556.55,334.50 L556.63,334.50 L556.72,334.50 L556.81,334.50 L556.90,334.50 L556.98,334.50 L557.07,334.50 L557.16,334.50 L557.24,334.50 L557.33,334.50 L557.42,334.50 L557.50,334.50 L557.59,334.50 L557.68,334.50 L557.76,334.50 L557.85,334.50 L557.94,334.50 L558.02,334.50 L558.11,334.50 L558.20,334.50 L558.29,334.50 L558.37,334.50 L558.46,334.50 L558.55,334.50 L558.63,334.50 L558.72,334.50 L558.81,334.50 L558.89,334.50 L558.98,334.50 L559.07,334.50 L559.15,334.50 L559.24,334.50 L559.33,334.50 L559.41,334.50 L559.50,334.50 L559.59,334.50 L559.68,334.50 L559.76,334.50 L559.85,334.50 L559.94,334.50 L560.02,334.50 L560.11,334.50 L560.20,334.50 L560.28,334.50 L560.37,334.50 L560.46,334.50 L560.54,334.50 L560.63,334.50 L560.72,334.50 L560.80,334.50 L560.89,334.50 L560.98,334.50 L561.07,334.50 L561.15,334.50 L561.24,334.50 L561.33,334.50 L561.41,334.50 L561.50,334.50 L561.59,334.50 L561.67,334.50 L561.76,334.50 L561.85,334.50 L561.93,334.50 L562.02,334.50 L562.11,334.50 L562.19,334.50 L562.28,334.50 L562.37,334.50 L562.46,334.50 L562.54,334.50 L562.63,334.50 L562.72,334.50 L562.80,334.50 L562.89,334.50 L562.98,334.50 L563.06,334.50 L563.15,334.50 L563.24,334.50 L563.32,334.50 L563.41,334.50 L563.50,334.50 L563.58,334.50 L563.67,334.50 L563.76,334.50 L563.85,334.50 L563.93,334.50 L564.02,334.50 L564.11,334.50 L564.19,334.50 L564.28,334.07 L564.37,333.78 L564.45,333.68 L564.54,333.57 L564.63,333.18 L564.71,332.84 L564.80,332.93 L564.89,333.16 L564.98,333.13 L565.06,332.94 L565.15,332.94 L565.24,333.13 L565.32,333.33 L565.41,333.31 L565.50,333.08 L565.58,332.95 L565.67,332.97 L565.76,332.79 L565.84,332.51 L565.93,332.53 L566.02,332.64 L566.10,332.50 L566.19,332.05 L566.28,331.40 L566.37,330.89 L566.45,330.70 L566.45,330.70 L566.54,330.80 L566.63,331.19 L566.71,331.77 L566.80,332.16 L566.89,332.18 L566.97,332.23 L567.06,332.18 L567.15,331.50 L567.23,330.66 L567.32,330.48 L567.41,330.77 L567.49,331.03 L567.58,331.30 L567.67,331.80 L567.76,332.42 L567.84,332.50 L567.93,331.70 L568.02,330.47 L568.10,329.19 L568.19,327.74 L568.28,325.93 L568.36,324.56 L568.41,324.36 L568.45,324.50 L568.54,325.54 L568.62,327.22 L568.71,329.28 L568.80,331.31 L568.88,332.68 L568.97,333.18 L569.06,332.98 L569.15,332.13 L569.23,330.41 L569.32,328.20 L569.41,327.25 L569.49,328.37 L569.58,329.87 L569.67,330.66 L569.75,330.80 L569.84,330.30 L569.93,329.69 L570.01,329.52 L570.10,329.28 L570.19,328.70 L570.27,328.10 L570.36,326.93 L570.45,324.51 L570.54,320.63 L570.62,314.88 L570.71,307.51 L570.80,301.53 L570.80,301.53 L570.88,301.15 L570.97,306.62 L571.06,314.00 L571.14,320.07 L571.23,324.19 L571.32,325.58 L571.40,322.01 L571.49,312.24 L571.58,298.22 L571.66,283.96 L571.75,273.92 L571.81,271.73 L571.84,272.32 L571.93,280.43 L572.01,294.11 L572.10,307.25 L572.19,317.26 L572.27,323.58 L572.36,325.21 L572.45,324.61 L572.53,326.07 L572.62,328.44 L572.71,327.99 L572.79,323.90 L572.88,317.89 L572.97,313.84 L573.05,314.13 L573.05,314.39 L573.14,317.78 L573.23,320.92 L573.32,322.72 L573.40,323.13 L573.49,321.27 L573.58,318.07 L573.66,317.69 L573.69,318.50 L573.75,320.81 L573.84,323.47 L573.92,323.01 L574.01,319.60 L574.10,314.89 L574.18,311.12 L574.19,310.98 L574.27,309.69 L574.36,310.92 L574.44,315.23 L574.53,321.43 L574.62,326.75 L574.71,329.68 L574.79,330.64 L574.88,330.36 L574.97,328.24 L575.05,324.65 L575.14,323.00 L575.23,324.82 L575.31,326.84 L575.40,327.13 L575.49,326.74 L575.57,326.38 L575.66,326.90 L575.75,328.73 L575.84,330.62 L575.92,331.19 L576.01,330.49 L576.10,330.12 L576.18,330.87 L576.27,331.72 L576.36,331.60 L576.44,330.64 L576.53,329.74 L576.62,329.07 L576.70,327.76 L576.79,325.41 L576.88,322.88 L576.96,321.30 L577.05,322.11 L577.14,325.53 L577.23,328.92 L577.31,329.75 L577.40,328.02 L577.49,325.95 L577.57,325.71 L577.66,326.91 L577.75,327.46 L577.83,327.23 L577.92,327.76 L578.01,329.30 L578.09,330.45 L578.18,330.07 L578.27,328.98 L578.35,328.36 L578.44,328.03 L578.53,328.15 L578.62,328.77 L578.70,327.81 L578.79,324.95 L578.88,323.60 L578.96,325.13 L579.05,326.59 L579.14,327.04 L579.22,328.07 L579.31,328.77 L579.40,327.97 L579.48,327.19 L579.57,327.59 L579.66,328.23 L579.74,327.80 L579.83,325.88 L579.92,322.36 L580.01,317.46 L580.09,312.77 L580.18,310.48 L580.18,310.45 L580.21,310.41 L580.27,311.43 L580.35,315.32 L580.44,320.47 L580.53,324.86 L580.61,327.67 L580.70,329.35 L580.79,330.25 L580.87,329.71 L580.96,327.55 L581.05,325.12 L581.13,324.57 L581.22,326.51 L581.31,328.97 L581.40,329.69 L581.48,328.45 L581.57,326.73 L581.66,324.66 L581.74,319.92 L581.83,310.96 L581.92,299.29 L581.96,293.25 L582.00,288.38 L582.09,283.02 L582.09,283.02 L582.18,286.85 L582.26,298.24 L582.35,311.53 L582.44,321.97 L582.52,327.69 L582.61,328.55 L582.70,326.25 L582.79,324.94 L582.87,326.27 L582.96,327.07 L583.05,326.34 L583.13,325.92 L583.22,325.62 L583.31,325.35 L583.39,326.30 L583.48,328.08 L583.57,329.25 L583.65,329.64 L583.74,329.65 L583.83,329.27 L583.91,329.08 L584.00,329.58 L584.09,329.36 L584.18,327.62 L584.26,325.57 L584.35,323.33 L584.44,319.94 L584.52,316.28 L584.55,315.48 L584.61,315.00 L584.70,316.52 L584.78,318.42 L584.87,320.62 L584.96,323.81 L585.04,326.64 L585.13,327.71 L585.22,327.09 L585.30,326.11 L585.39,324.60 L585.48,320.76 L585.57,314.66 L585.65,308.70 L585.74,305.02 L585.81,304.22 L585.83,304.32 L585.91,306.37 L586.00,310.52 L586.09,316.40 L586.17,323.02 L586.26,328.46 L586.35,331.53 L586.43,332.32 L586.52,331.79 L586.61,331.00 L586.70,330.09 L586.78,328.28 L586.87,325.99 L586.96,325.22 L587.04,325.86 L587.13,325.86 L587.22,324.89 L587.30,322.35 L587.39,315.99 L587.48,304.04 L587.56,285.62 L587.65,263.07 L587.74,244.55 L587.81,238.77 L587.82,238.93 L587.91,248.29 L588.00,266.81 L588.09,286.54 L588.17,302.21 L588.26,312.27 L588.35,317.49 L588.43,317.92 L588.52,313.28 L588.61,304.07 L588.69,290.95 L588.78,276.29 L588.87,265.27 L588.90,263.46 L588.95,263.67 L589.04,273.56 L589.13,289.97 L589.21,304.79 L589.26,310.62 L589.30,314.01 L589.39,318.79 L589.48,320.45 L589.56,319.83 L589.65,320.42 L589.74,323.64 L589.82,326.57 L589.91,327.59 L590.00,328.18 L590.08,328.74 L590.17,327.62 L590.26,325.68 L590.34,325.84 L590.43,327.89 L590.52,329.51 L590.60,330.06 L590.69,329.85 L590.78,328.32 L590.87,326.13 L590.95,326.04 L591.04,327.98 L591.13,328.77 L591.21,327.21 L591.30,323.82 L591.39,319.30 L591.47,315.77 L591.56,315.53 L591.60,316.59 L591.65,318.14 L591.73,321.42 L591.82,323.80 L591.91,325.18 L591.99,325.98 L592.08,325.72 L592.17,323.72 L592.26,319.75 L592.34,314.35 L592.43,307.95 L592.52,300.67 L592.52,300.67 L592.60,294.72 L592.69,292.71 L592.78,294.52 L592.80,295.62 L592.86,298.40 L592.95,303.29 L593.04,308.96 L593.12,314.97 L593.14,315.74 L593.21,320.47 L593.30,324.69 L593.38,327.47 L593.47,328.39 L593.56,327.40 L593.65,326.37 L593.73,326.01 L593.82,325.17 L593.91,324.10 L593.99,323.53 L594.08,322.69 L594.17,320.81 L594.25,319.51 L594.34,321.62 L594.43,325.66 L594.51,328.13 L594.60,328.43 L594.69,326.35 L594.77,322.30 L594.86,318.55 L594.95,315.42 L595.04,311.57 L595.12,307.58 L595.21,303.23 L595.30,297.47 L595.38,292.36 L595.41,291.39 L595.47,291.12 L595.56,295.77 L595.64,305.15 L595.73,313.50 L595.82,318.02 L595.90,320.62 L595.99,322.49 L596.08,324.54 L596.16,326.38 L596.25,326.72 L596.34,326.66 L596.43,326.21 L596.51,322.48 L596.60,314.42 L596.69,304.39 L596.77,296.11 L596.86,292.66 L596.86,292.66 L596.95,295.69 L597.03,304.04 L597.12,313.89 L597.21,321.12 L597.29,324.07 L597.38,325.11 L597.47,326.22 L597.56,325.41 L597.64,322.13 L597.73,320.55 L597.82,322.66 L597.90,324.03 L597.99,320.37 L598.08,311.91 L598.16,302.25 L598.25,296.17 L598.31,295.19 L598.34,295.46 L598.42,297.96 L598.51,302.45 L598.60,309.88 L598.68,318.77 L598.77,325.80 L598.86,329.59 L598.95,330.71 L599.03,330.55 L599.12,329.98 L599.21,328.26 L599.29,323.87 L599.38,317.66 L599.47,313.66 L599.55,314.13 L599.61,315.50 L599.64,315.97 L599.73,317.10 L599.81,319.22 L599.90,322.20 L599.99,323.47 L600.07,321.81 L600.16,318.76 L600.25,315.76 L600.34,312.11 L600.42,307.20 L600.48,304.07 L600.51,302.92 L600.60,302.64 L600.68,307.75 L600.77,315.17 L600.86,320.02 L600.94,321.98 L601.03,324.09 L601.12,326.53 L601.20,327.08 L601.29,325.69 L601.38,325.31 L601.46,326.28 L601.55,325.51 L601.64,323.47 L601.73,322.69 L601.81,322.00 L601.90,321.11 L601.99,322.58 L602.07,324.90 L602.16,324.39 L602.25,322.80 L602.33,323.63 L602.42,326.50 L602.51,329.19 L602.59,330.42 L602.68,330.16 L602.77,328.03 L602.85,324.50 L602.94,321.14 L603.03,317.77 L603.12,313.25 L603.20,307.42 L603.29,300.95 L603.38,295.77 L603.38,295.77 L603.46,294.43 L603.55,298.39 L603.64,306.23 L603.72,312.83 L603.81,315.13 L603.86,315.30 L603.90,315.33 L603.98,315.80 L604.07,317.26 L604.16,320.80 L604.24,325.36 L604.33,326.66 L604.42,322.95 L604.51,317.68 L604.59,315.22 L604.59,315.18 L604.68,314.15 L604.77,311.47 L604.85,308.18 L604.92,307.10 L604.94,307.18 L605.03,309.84 L605.11,315.17 L605.20,320.29 L605.29,322.25 L605.37,320.23 L605.46,314.69 L605.55,307.38 L605.63,301.27 L605.72,297.20 L605.76,295.74 L605.81,294.07 L605.90,291.10 L605.98,286.99 L606.07,280.90 L606.16,274.14 L606.24,269.74 L606.27,269.39 L606.33,270.90 L606.42,278.44 L606.50,288.70 L606.51,289.77 L606.59,296.88 L606.66,301.77 L606.68,302.55 L606.74,306.13 L606.76,307.76 L606.85,311.68 L606.94,313.19 L607.02,314.79 L607.11,318.15 L607.20,322.38 L607.29,326.25 L607.37,328.05 L607.46,326.84 L607.55,324.05 L607.63,322.45 L607.72,323.38 L607.81,325.51 L607.89,326.30 L607.98,324.22 L608.07,319.01 L608.15,312.38 L608.24,307.25 L608.33,304.31 L608.42,303.62 L608.44,304.07 L608.50,305.98 L608.59,310.21 L608.68,313.97 L608.76,317.52 L608.85,321.92 L608.94,325.57 L609.02,326.99 L609.11,326.82 L609.20,326.29 L609.28,325.79 L609.37,324.50 L609.46,322.38 L609.54,321.56 L609.63,323.49 L609.72,326.41 L609.81,327.68 L609.89,326.03 L609.98,322.09 L610.07,317.59 L610.15,312.76 L610.24,305.39 L610.33,291.88 L610.41,271.01 L610.50,248.22 L610.59,233.44 L610.62,231.79 L610.67,234.09 L610.76,249.12 L610.85,270.98 L610.93,293.00 L611.02,310.45 L611.11,319.15 L611.20,320.58 L611.28,321.46 L611.37,323.44 L611.46,321.92 L611.54,315.64 L611.63,309.12 L611.72,305.47 L611.80,304.19 L611.89,304.69 L611.92,305.25 L611.98,306.58 L612.06,309.04 L612.15,312.54 L612.24,318.91 L612.32,326.38 L612.41,330.78 L612.50,331.53 L612.59,331.08 L612.67,330.90 L612.76,330.39 L612.85,328.51 L612.93,325.14 L613.02,320.74 L613.11,315.01 L613.19,305.77 L613.24,298.70 L613.28,289.96 L613.37,268.85 L613.45,251.12 L613.51,247.01 L613.54,248.06 L613.63,261.54 L613.71,281.17 L613.80,298.07 L613.89,309.65 L613.98,314.94 L614.06,316.96 L614.15,320.83 L614.24,325.96 L614.32,328.98 L614.41,328.16 L614.50,323.12 L614.58,315.22 L614.67,306.14 L614.76,296.05 L614.84,285.13 L614.93,277.65 L614.96,276.98 L615.02,278.67 L615.10,286.10 L615.19,294.93 L615.28,301.84 L615.37,302.98 L615.45,298.18 L615.50,295.57 L615.54,294.31 L615.55,294.28 L615.63,297.11 L615.71,304.59 L615.80,312.36 L615.89,317.31 L615.97,319.36 L616.06,320.88 L616.15,321.10 L616.23,319.09 L616.32,318.37 L616.41,321.42 L616.49,324.81 L616.58,325.58 L616.67,324.58 L616.76,324.03 L616.84,325.24 L616.93,325.82 L617.02,324.13 L617.10,321.85 L617.19,318.81 L617.28,314.06 L617.36,309.00 L617.45,305.05 L617.49,304.07 L617.54,304.24 L617.62,308.35 L617.71,314.97 L617.80,320.39 L617.88,324.04 L617.97,326.68 L618.06,327.12 L618.15,324.36 L618.23,319.28 L618.32,315.40 L618.41,316.10 L618.49,318.63 L618.58,318.34 L618.67,317.11 L618.75,319.70 L618.84,324.19 L618.93,325.64 L619.01,323.24 L619.10,318.84 L619.19,314.39 L619.28,310.19 L619.36,305.34 L619.43,301.60 L619.45,300.86 L619.54,297.89 L619.62,294.07 L619.68,288.99 L619.71,284.35 L619.80,267.01 L619.88,247.91 L619.97,235.50 L620.03,233.60 L620.06,234.85 L620.14,247.16 L620.23,267.72 L620.32,288.09 L620.40,303.95 L620.49,314.72 L620.58,320.62 L620.67,322.64 L620.75,322.17 L620.84,321.42 L620.93,321.64 L621.01,322.80 L621.10,325.10 L621.19,328.36 L621.27,330.79 L621.36,330.55 L621.45,328.27 L621.53,326.17 L621.62,324.98 L621.71,322.94 L621.79,316.27 L621.88,302.37 L621.97,284.15 L622.06,267.33 L622.14,256.99 L622.20,255.88 L622.23,257.30 L622.32,268.25 L622.40,284.56 L622.49,298.98 L622.58,306.44 L622.66,308.33 L622.75,310.28 L622.84,314.20 L622.92,318.12 L623.01,320.82 L623.10,321.43 L623.18,320.74 L623.27,321.81 L623.36,324.28 L623.45,324.99 L623.53,324.47 L623.62,325.01 L623.71,325.60 L623.79,325.43 L623.88,326.03 L623.97,326.43 L624.05,323.26 L624.14,316.42 L624.23,309.09 L624.31,304.04 L624.40,302.36 L624.41,302.37 L624.49,303.55 L624.57,305.56 L624.66,303.40 L624.75,290.69 L624.84,266.21 L624.92,237.22 L625.01,215.09 L625.10,207.60 L625.10,207.60 L625.18,216.52 L625.27,239.29 L625.36,268.41 L625.44,293.94 L625.53,309.75 L625.62,315.69 L625.70,316.50 L625.79,318.32 L625.88,322.68 L625.96,325.92 L626.05,326.11 L626.14,325.06 L626.23,323.49 L626.31,319.21 L626.33,317.83 L626.40,311.58 L626.49,304.47 L626.57,301.36 L626.66,300.23 L626.75,298.11 L626.80,296.97 L626.83,296.69 L626.92,298.50 L627.01,301.56 L627.09,302.19 L627.18,300.97 L627.27,300.96 L627.27,300.96 L627.35,302.99 L627.44,306.87 L627.53,312.44 L627.62,317.93 L627.70,321.85 L627.79,324.03 L627.88,324.26 L627.96,322.99 L628.05,321.60 L628.14,322.08 L628.22,325.13 L628.31,327.84 L628.40,327.19 L628.48,323.25 L628.57,318.52 L628.66,316.43 L628.74,318.47 L628.83,322.20 L628.92,324.29 L629.01,324.14 L629.09,323.60 L629.18,322.88 L629.27,320.78 L629.35,318.24 L629.44,316.02 L629.53,313.84 L629.61,312.74 L629.61,312.71 L629.70,313.60 L629.79,316.49 L629.87,320.64 L629.96,324.27 L630.05,325.78 L630.14,324.85 L630.22,321.43 L630.31,313.92 L630.40,300.56 L630.43,294.15 L630.48,284.79 L630.57,273.92 L630.66,270.80 L630.67,270.93 L630.74,273.92 L630.83,282.03 L630.92,293.03 L631.00,302.60 L631.09,307.57 L631.10,307.94 L631.18,309.44 L631.26,312.69 L631.35,318.22 L631.44,322.76 L631.53,324.27 L631.61,322.99 L631.70,321.54 L631.79,321.88 L631.87,321.88 L631.96,318.28 L632.05,309.78 L632.13,297.92 L632.22,286.33 L632.31,278.96 L632.34,277.93 L632.39,278.30 L632.48,284.40 L632.57,293.43 L632.65,299.80 L632.74,301.73 L632.83,300.79 L632.84,300.58 L632.87,300.04 L632.92,299.66 L633.00,301.85 L633.09,307.37 L633.18,312.14 L633.26,314.01 L633.35,314.75 L633.44,314.02 L633.52,309.33 L633.61,302.62 L633.70,299.00 L633.75,299.16 L633.78,300.20 L633.87,304.50 L633.96,310.00 L634.04,313.71 L634.13,312.15 L634.22,305.65 L634.31,297.02 L634.39,287.67 L634.48,280.75 L634.51,279.91 L634.57,281.06 L634.65,288.63 L634.74,299.25 L634.83,309.02 L634.91,314.41 L635.00,313.50 L635.09,309.03 L635.17,305.95 L635.24,305.92 L635.26,306.41 L635.35,309.73 L635.43,313.84 L635.52,316.98 L635.61,319.74 L635.70,323.16 L635.78,325.70 L635.87,326.03 L635.96,325.81 L636.04,326.47 L636.13,327.30 L636.22,327.71 L636.30,326.52 L636.39,322.42 L636.48,318.95 L636.56,321.18 L636.65,326.43 L636.74,328.49 L636.82,326.16 L636.91,322.40 L637.00,319.50 L637.09,316.99 L637.17,313.14 L637.26,307.29 L637.35,301.75 L637.40,300.26 L637.43,300.51 L637.52,305.01 L637.61,312.70 L637.69,320.20 L637.78,325.05 L637.87,326.69 L637.95,326.90 L638.04,327.13 L638.13,327.66 L638.21,328.73 L638.30,329.84 L638.39,330.04 L638.48,329.33 L638.56,328.53 L638.65,328.14 L638.74,328.21 L638.82,329.03 L638.91,329.95 L639.00,329.47 L639.08,327.79 L639.17,327.11 L639.26,328.52 L639.34,330.27 L639.43,330.15 L639.52,328.51 L639.60,326.71 L639.69,323.42 L639.78,316.51 L639.87,306.95 L639.95,298.58 L639.98,296.72 L640.03,294.94 L640.04,294.81 L640.13,296.07 L640.15,296.92 L640.21,301.37 L640.30,308.89 L640.39,315.43 L640.47,318.36 L640.56,316.46 L640.65,310.29 L640.73,302.16 L640.82,294.02 L640.90,288.64 L640.91,288.13 L641.00,286.05 L641.02,286.31 L641.08,288.50 L641.17,296.11 L641.26,307.05 L641.34,317.38 L641.43,323.86 L641.52,325.84 L641.60,325.07 L641.69,323.99 L641.78,324.42 L641.86,326.53 L641.95,328.55 L642.04,329.29 L642.12,329.69 L642.21,330.37 L642.30,330.32 L642.39,328.65 L642.47,326.49 L642.56,325.94 L642.65,325.99 L642.73,324.81 L642.82,323.42 L642.91,321.23 L642.99,316.07 L643.08,309.17 L643.17,304.51 L643.20,304.02 L643.25,304.88 L643.34,310.02 L643.43,316.95 L643.51,321.78 L643.60,321.86 L643.69,316.50 L643.78,307.55 L643.86,299.02 L643.93,295.23 L643.95,294.74 L644.04,296.52 L644.12,303.43 L644.15,306.57 L644.21,311.72 L644.30,318.02 L644.38,321.65 L644.47,323.43 L644.56,325.38 L644.64,328.39 L644.73,330.37 L644.82,329.94 L644.90,327.98 L644.99,325.30 L645.08,321.30 L645.17,315.24 L645.25,308.10 L645.34,303.29 L645.37,302.80 L645.43,303.59 L645.51,307.90 L645.60,313.60 L645.69,318.44 L645.77,321.32 L645.86,322.59 L645.95,323.02 L646.03,324.57 L646.12,327.39 L646.21,329.03 L646.29,328.29 L646.38,325.78 L646.47,322.60 L646.56,320.64 L646.64,321.70 L646.73,324.83 L646.82,326.91 L646.90,327.33 L646.99,327.64 L647.08,328.22 L647.16,328.81 L647.25,329.77 L647.34,330.91 L647.42,331.50 L647.51,330.39 L647.60,327.00 L647.68,324.03 L647.77,324.78 L647.86,327.93 L647.95,330.01 L648.03,329.74 L648.12,327.75 L648.21,325.31 L648.29,323.50 L648.38,323.67 L648.47,325.75 L648.55,326.91 L648.64,325.42 L648.73,322.46 L648.81,320.01 L648.90,320.42 L648.99,324.22 L649.07,327.79 L649.16,328.51 L649.25,328.33 L649.34,329.27 L649.42,330.42 L649.51,330.60 L649.60,330.14 L649.68,329.75 L649.77,329.35 L649.86,328.25 L649.94,325.53 L650.03,320.96 L650.12,315.40 L650.20,310.13 L650.29,306.16 L650.38,304.10 L650.44,304.07 L650.46,304.46 L650.55,306.95 L650.64,310.80 L650.73,315.48 L650.81,319.50 L650.90,321.09 L650.99,319.32 L651.07,313.38 L651.16,304.18 L651.25,294.81 L651.33,288.22 L651.34,287.73 L651.42,285.91 L651.51,287.39 L651.59,291.48 L651.61,292.64 L651.68,296.67 L651.77,300.44 L651.86,300.71 L651.94,298.43 L652.00,297.51 L652.03,297.72 L652.12,301.89 L652.20,309.47 L652.29,316.12 L652.38,318.88 L652.46,317.44 L652.55,313.46 L652.61,310.66 L652.64,309.51 L652.72,307.72 L652.81,308.39 L652.84,308.91 L652.90,310.21 L652.98,312.92 L653.07,317.15 L653.16,321.02 L653.25,322.10 L653.33,320.64 L653.42,318.70 L653.47,318.29 L653.51,318.56 L653.59,320.86 L653.68,323.81 L653.77,325.22 L653.85,325.31 L653.94,326.55 L654.03,329.61 L654.11,332.34 L654.20,333.40 L654.29,333.18 L654.37,332.02 L654.46,329.65 L654.55,326.58 L654.64,324.58 L654.72,325.10 L654.81,327.38 L654.90,329.31 L654.98,329.66 L655.07,328.48 L655.16,325.63 L655.24,320.78 L655.33,314.35 L655.42,308.58 L655.50,306.58 L655.50,306.58 L655.59,309.37 L655.68,315.00 L655.76,320.41 L655.85,322.97 L655.94,321.75 L656.03,318.18 L656.11,314.26 L656.20,311.41 L656.25,310.73 L656.29,310.86 L656.37,313.37 L656.46,318.27 L656.55,323.24 L656.63,325.84 L656.72,325.57 L656.81,323.13 L656.89,320.00 L656.98,318.35 L657.07,318.45 L657.15,318.33 L657.24,317.21 L657.31,316.75 L657.33,316.82 L657.42,318.47 L657.50,321.06 L657.59,323.11 L657.68,334.50 L657.76,334.50 L657.85,334.50 L657.94,334.50 L658.02,334.50 L658.11,334.50 L658.20,334.50 L658.28,334.50 L658.37,334.50" fill="none" stroke="#d42229" stroke-width="1.4" stroke-linejoin="round"/>
<path d="M405.00,334.50 L405.09,334.50 L405.17,334.50 L405.26,334.50 L405.35,334.50 L405.43,334.50 L405.52,334.50 L405.61,334.50 L405.70,334.50 L405.78,334.50 L405.87,334.50 L405.96,334.50 L406.04,334.50 L406.13,334.50 L406.22,334.50 L406.30,334.50 L406.39,334.50 L406.48,334.50 L406.56,334.50 L406.65,334.50 L406.74,334.50 L406.82,334.50 L406.91,334.50 L407.00,334.50 L407.09,334.50 L407.17,334.50 L407.26,334.50 L407.35,334.50 L407.43,334.50 L407.52,334.50 L407.61,334.50 L407.69,334.50 L407.78,334.50 L407.87,334.50 L407.95,334.50 L408.04,334.50 L408.13,334.50 L408.21,334.50 L408.30,334.50 L408.39,334.50 L408.48,334.50 L408.56,334.50 L408.65,334.50 L408.74,334.50 L408.82,334.50 L408.91,334.50 L409.00,334.50 L409.08,334.50 L409.17,334.50 L409.26,334.50 L409.34,334.50 L409.43,334.50 L409.52,334.50 L409.60,334.50 L409.69,334.50 L409.78,334.50 L409.87,334.50 L409.95,334.50 L410.04,334.50 L410.13,334.50 L410.21,334.50 L410.30,334.50 L410.39,334.50 L410.47,334.50 L410.56,334.50 L410.65,334.50 L410.73,334.50 L410.82,334.50 L410.91,334.50 L410.99,334.50 L411.08,334.50 L411.17,334.50 L411.26,334.50 L411.34,334.50 L411.43,334.50 L411.52,334.50 L411.60,334.50 L411.69,334.50 L411.78,334.50 L411.86,334.50 L411.95,334.50 L412.04,334.50 L412.12,334.50 L412.21,334.50 L412.30,334.50 L412.38,334.50 L412.47,334.50 L412.56,334.50 L412.65,334.50 L412.73,334.50 L412.82,334.50 L412.91,334.50 L412.99,334.50 L413.08,334.50 L413.17,334.50 L413.25,334.50 L413.34,334.50 L413.43,334.50 L413.51,334.50 L413.60,334.50 L413.69,334.50 L413.77,334.50 L413.86,334.50 L413.95,334.50 L414.04,334.50 L414.12,334.50 L414.21,334.50 L414.30,334.50 L414.38,334.50 L414.47,334.50 L414.56,334.50 L414.64,334.50 L414.73,334.50 L414.82,334.50 L414.90,334.50 L414.99,334.50 L415.08,334.50 L415.16,334.50 L415.25,334.50 L415.34,334.50 L415.43,334.50 L415.51,334.50 L415.60,334.50 L415.69,334.50 L415.77,334.50 L415.86,334.50 L415.95,334.50 L416.03,334.50 L416.12,334.50 L416.21,334.50 L416.29,334.50 L416.38,334.50 L416.47,334.50 L416.56,334.50 L416.64,334.50 L416.73,334.50 L416.82,334.50 L416.90,334.50 L416.99,334.50 L417.08,334.50 L417.16,334.50 L417.25,334.50 L417.34,334.50 L417.42,334.50 L417.51,334.50 L417.60,334.50 L417.68,334.50 L417.77,334.50 L417.86,334.50 L417.95,334.50 L418.03,334.50 L418.12,334.50 L418.21,334.50 L418.29,334.50 L418.38,334.50 L418.47,334.50 L418.55,334.50 L418.64,334.50 L418.73,334.50 L418.81,334.50 L418.90,334.50 L418.99,334.50 L419.07,334.50 L419.16,334.50 L419.25,334.50 L419.34,334.50 L419.42,334.50 L419.51,334.50 L419.60,334.50 L419.68,334.50 L419.77,334.50 L419.86,334.50 L419.94,334.50 L420.03,334.50 L420.12,334.50 L420.20,334.50 L420.29,334.50 L420.38,334.50 L420.46,334.50 L420.55,334.50 L420.64,334.50 L420.73,334.50 L420.81,334.50 L420.90,334.50 L420.99,334.50 L421.07,334.50 L421.16,334.50 L421.25,334.50 L421.33,334.50 L421.42,334.50 L421.51,334.50 L421.59,334.50 L421.68,334.50 L421.77,334.50 L421.85,334.50 L421.94,334.50 L422.03,334.50 L422.12,334.50 L422.20,334.50 L422.29,334.50 L422.38,334.50 L422.46,334.50 L422.55,334.50 L422.64,334.50 L422.72,334.50 L422.81,334.50 L422.90,334.50 L422.98,334.50 L423.07,334.50 L423.16,334.50 L423.24,334.50 L423.33,334.50 L423.42,334.50 L423.51,334.50 L423.59,334.50 L423.68,334.50 L423.77,334.50 L423.85,334.50 L423.94,334.50 L424.03,334.50 L424.11,334.50 L424.20,334.50 L424.29,334.50 L424.37,334.50 L424.46,334.50 L424.55,334.50 L424.63,334.50 L424.72,334.50 L424.81,334.50 L424.90,334.50 L424.98,334.50 L425.07,334.50 L425.16,334.50 L425.24,334.50 L425.33,334.50 L425.42,334.50 L425.50,334.50 L425.59,334.50 L425.68,334.50 L425.76,334.50 L425.85,334.50 L425.94,334.50 L426.02,334.50 L426.11,334.50 L426.20,334.50 L426.29,334.50 L426.37,334.50 L426.46,334.50 L426.55,334.50 L426.63,334.50 L426.72,334.50 L426.81,334.50 L426.89,334.50 L426.98,334.50 L427.07,334.50 L427.15,334.50 L427.24,334.50 L427.33,334.50 L427.42,334.50 L427.50,334.45 L427.59,334.40 L427.68,334.36 L427.76,334.36 L427.85,334.38 L427.94,334.32 L428.02,334.19 L428.11,334.02 L428.20,333.78 L428.28,333.44 L428.37,333.21 L428.46,333.23 L428.54,333.25 L428.63,333.01 L428.72,332.77 L428.81,332.78 L428.89,332.70 L428.98,332.29 L429.07,331.81 L429.15,331.74 L429.24,332.05 L429.33,331.97 L429.41,331.05 L429.50,330.05 L429.59,329.92 L429.67,330.69 L429.76,331.88 L429.85,332.98 L429.93,333.37 L430.02,332.88 L430.11,332.27 L430.20,332.35 L430.28,332.70 L430.37,332.41 L430.46,331.45 L430.54,330.16 L430.63,329.14 L430.72,328.84 L430.80,328.92 L430.89,328.84 L430.98,328.20 L431.06,326.77 L431.15,323.79 L431.24,317.34 L431.32,306.69 L431.41,294.16 L431.50,284.38 L431.57,281.75 L431.59,281.98 L431.67,288.40 L431.76,300.63 L431.85,313.40 L431.93,322.57 L432.02,327.13 L432.11,329.12 L432.19,330.65 L432.28,331.41 L432.37,330.95 L432.45,330.46 L432.54,330.57 L432.63,330.64 L432.71,330.12 L432.80,329.07 L432.89,328.13 L432.98,327.48 L433.06,326.96 L433.15,327.56 L433.24,329.29 L433.32,330.33 L433.41,330.28 L433.50,330.60 L433.58,331.40 L433.67,331.34 L433.76,330.14 L433.84,328.97 L433.93,328.25 L434.02,327.02 L434.10,324.98 L434.19,323.07 L434.27,322.31 L434.28,322.29 L434.37,322.13 L434.45,321.05 L434.54,318.22 L434.58,316.65 L434.63,314.69 L434.71,313.26 L434.80,314.60 L434.89,317.05 L434.97,319.99 L435.03,321.70 L435.06,322.65 L435.15,323.97 L435.23,324.34 L435.32,323.91 L435.41,321.97 L435.49,319.06 L435.58,316.44 L435.62,315.49 L435.67,314.73 L435.76,314.48 L435.84,315.50 L435.93,316.30 L436.02,316.08 L436.10,315.86 L436.13,316.09 L436.19,317.23 L436.28,320.54 L436.36,324.47 L436.45,327.33 L436.54,328.71 L436.62,329.82 L436.71,331.41 L436.80,332.27 L436.88,331.52 L436.97,330.11 L437.06,329.17 L437.15,328.32 L437.23,326.57 L437.32,323.64 L437.41,320.31 L437.49,317.64 L437.58,315.96 L437.67,315.81 L437.75,318.03 L437.84,321.26 L437.93,322.74 L438.01,322.32 L438.10,321.24 L438.19,319.55 L438.28,318.12 L438.30,318.02 L438.36,318.54 L438.45,320.20 L438.54,320.90 L438.62,320.76 L438.71,322.37 L438.80,326.23 L438.88,329.90 L438.97,331.75 L439.06,332.19 L439.14,332.11 L439.23,331.60 L439.32,330.80 L439.40,330.21 L439.49,329.64 L439.58,328.63 L439.67,327.26 L439.75,326.38 L439.84,326.54 L439.93,326.42 L440.01,324.47 L440.10,321.95 L440.19,321.20 L440.27,321.51 L440.36,322.25 L440.45,324.46 L440.53,326.78 L440.62,326.56 L440.71,323.88 L440.79,321.59 L440.88,321.71 L440.97,323.64 L441.06,325.82 L441.14,327.54 L441.23,328.51 L441.32,328.13 L441.40,326.41 L441.49,325.21 L441.58,326.06 L441.66,328.28 L441.75,330.25 L441.84,330.74 L441.92,329.80 L442.01,328.76 L442.10,328.30 L442.18,327.85 L442.27,326.46 L442.36,323.04 L442.45,317.83 L442.53,313.35 L442.62,311.68 L442.65,311.68 L442.71,311.99 L442.79,312.61 L442.88,314.64 L442.97,318.80 L443.05,322.17 L443.14,323.09 L443.23,323.95 L443.31,326.51 L443.40,328.61 L443.49,328.86 L443.57,328.39 L443.66,327.88 L443.75,327.80 L443.84,328.00 L443.92,327.77 L444.01,327.00 L444.10,324.94 L444.18,321.25 L444.27,316.99 L444.36,313.57 L444.44,311.78 L444.46,311.68 L444.53,312.28 L444.62,315.91 L444.70,321.66 L444.79,326.53 L444.88,328.53 L444.96,328.52 L445.05,328.75 L445.14,329.32 L445.23,328.30 L445.31,326.02 L445.40,325.78 L445.49,328.33 L445.57,330.25 L445.66,329.96 L445.75,329.03 L445.83,327.74 L445.92,325.23 L446.01,322.00 L446.09,318.62 L446.18,315.64 L446.27,314.21 L446.35,315.68 L446.44,320.16 L446.53,325.33 L446.62,328.80 L446.70,329.92 L446.79,329.02 L446.88,327.44 L446.96,327.25 L447.05,328.26 L447.14,328.04 L447.22,325.97 L447.31,324.33 L447.40,325.16 L447.48,327.64 L447.57,329.73 L447.66,330.43 L447.74,329.58 L447.83,328.36 L447.92,328.40 L448.01,329.41 L448.09,330.55 L448.18,331.73 L448.27,332.30 L448.35,332.03 L448.44,331.41 L448.53,330.84 L448.61,331.02 L448.70,331.73 L448.79,331.96 L448.87,331.71 L448.96,331.45 L449.05,330.96 L449.14,330.04 L449.22,329.63 L449.31,330.04 L449.40,330.11 L449.48,329.62 L449.57,329.34 L449.66,329.21 L449.74,328.70 L449.83,327.51 L449.92,326.84 L450.00,328.33 L450.09,330.71 L450.18,332.04 L450.26,332.24 L450.35,331.15 L450.44,328.03 L450.53,323.54 L450.61,320.27 L450.70,319.92 L450.71,320.09 L450.79,321.18 L450.87,322.53 L450.96,323.99 L451.05,325.06 L451.13,325.32 L451.22,325.70 L451.31,326.42 L451.39,326.83 L451.48,327.24 L451.57,328.04 L451.65,328.53 L451.74,327.91 L451.83,326.95 L451.92,327.29 L452.00,328.82 L452.09,330.20 L452.18,330.97 L452.26,331.65 L452.35,332.33 L452.44,332.20 L452.52,330.79 L452.61,328.96 L452.70,327.75 L452.78,327.07 L452.87,326.17 L452.96,324.84 L453.04,323.70 L453.13,323.87 L453.22,325.72 L453.31,327.44 L453.39,327.98 L453.48,328.18 L453.57,328.29 L453.65,327.40 L453.74,324.07 L453.83,317.65 L453.91,309.80 L453.92,308.91 L454.00,303.45 L454.09,300.90 L454.17,302.56 L454.26,306.46 L454.35,310.02 L454.43,313.42 L454.52,318.73 L454.61,324.51 L454.70,327.23 L454.78,326.50 L454.87,324.32 L454.96,321.81 L455.04,318.59 L455.13,315.42 L455.17,314.59 L455.22,314.50 L455.30,316.60 L455.39,320.23 L455.48,323.69 L455.56,325.27 L455.65,323.87 L455.74,321.65 L455.82,322.35 L455.91,325.89 L456.00,329.12 L456.09,330.52 L456.17,330.50 L456.26,328.88 L456.35,325.49 L456.43,320.46 L456.52,312.66 L456.61,301.67 L456.69,288.85 L456.78,275.89 L456.87,266.77 L456.91,265.39 L456.95,266.65 L457.04,276.25 L457.13,291.15 L457.21,305.14 L457.30,315.27 L457.39,322.41 L457.48,327.12 L457.56,329.59 L457.65,330.21 L457.74,328.74 L457.82,324.85 L457.91,318.86 L458.00,311.64 L458.08,303.98 L458.17,297.83 L458.21,296.46 L458.26,296.74 L458.34,302.12 L458.43,310.90 L458.52,319.10 L458.60,324.81 L458.69,326.93 L458.78,326.18 L458.87,324.02 L458.95,320.30 L459.04,316.67 L459.13,316.01 L459.21,318.47 L459.30,322.51 L459.39,326.03 L459.47,327.73 L459.56,327.84 L459.65,327.86 L459.73,329.20 L459.82,330.81 L459.91,331.03 L460.00,329.97 L460.08,328.50 L460.17,326.28 L460.26,321.80 L460.34,314.51 L460.43,305.43 L460.52,296.84 L460.60,292.66 L460.69,296.17 L460.78,305.98 L460.86,316.60 L460.95,323.73 L461.04,326.92 L461.12,327.81 L461.21,327.03 L461.30,324.78 L461.39,322.92 L461.47,322.84 L461.56,324.44 L461.65,327.03 L461.73,329.36 L461.82,330.52 L461.91,330.62 L461.99,330.40 L462.08,330.91 L462.17,331.69 L462.25,330.43 L462.34,326.45 L462.43,322.99 L462.51,323.49 L462.60,326.35 L462.69,327.82 L462.78,327.93 L462.86,328.66 L462.95,329.43 L463.04,328.72 L463.12,327.36 L463.21,327.57 L463.30,328.96 L463.38,328.71 L463.47,324.92 L463.56,317.16 L463.64,307.01 L463.65,306.64 L463.73,297.51 L463.82,291.27 L463.86,290.00 L463.90,290.21 L463.99,295.08 L464.08,304.24 L464.17,313.93 L464.25,320.52 L464.34,323.07 L464.43,323.70 L464.43,323.73 L464.51,324.39 L464.60,325.00 L464.69,324.57 L464.77,322.12 L464.86,317.70 L464.95,313.08 L465.03,309.92 L465.09,309.09 L465.12,309.15 L465.21,311.62 L465.29,316.63 L465.38,321.20 L465.47,323.35 L465.56,323.40 L465.64,321.53 L465.73,317.95 L465.82,314.80 L465.83,314.56 L465.90,314.66 L465.99,317.60 L466.08,321.91 L466.16,326.05 L466.25,328.71 L466.34,329.13 L466.42,327.62 L466.51,325.34 L466.60,323.53 L466.68,323.38 L466.77,325.86 L466.86,329.50 L466.95,331.49 L467.03,331.25 L467.12,330.08 L467.21,328.64 L467.29,326.61 L467.38,324.81 L467.47,324.47 L467.55,324.46 L467.64,321.57 L467.73,312.44 L467.81,294.48 L467.90,267.37 L467.99,236.49 L468.07,213.23 L468.13,207.78 L468.13,207.70 L468.16,208.63 L468.25,225.13 L468.34,254.44 L468.42,284.18 L468.51,306.42 L468.60,319.77 L468.68,326.39 L468.77,329.17 L468.86,329.88 L468.94,329.68 L469.03,329.88 L469.12,330.48 L469.20,330.62 L469.29,330.55 L469.38,330.35 L469.46,329.14 L469.55,327.13 L469.64,325.67 L469.73,325.45 L469.81,326.54 L469.90,328.44 L469.99,329.37 L470.07,328.17 L470.16,326.06 L470.25,325.06 L470.33,325.46 L470.42,326.10 L470.51,326.04 L470.59,324.73 L470.68,322.33 L470.77,321.38 L470.86,323.46 L470.94,326.60 L471.03,329.09 L471.12,330.69 L471.20,331.05 L471.29,330.24 L471.38,329.05 L471.46,328.52 L471.55,329.31 L471.64,330.90 L471.72,331.89 L471.81,331.71 L471.90,330.60 L471.98,328.84 L472.07,326.63 L472.16,324.15 L472.25,322.71 L472.33,324.31 L472.42,328.35 L472.51,331.69 L472.59,332.61 L472.68,331.20 L472.77,327.45 L472.85,320.98 L472.94,312.38 L473.03,303.37 L473.11,294.61 L473.17,289.15 L473.20,287.16 L473.27,284.41 L473.29,284.44 L473.37,289.11 L473.46,299.92 L473.55,312.20 L473.64,321.61 L473.72,326.44 L473.81,327.49 L473.90,327.59 L473.98,328.40 L474.07,329.11 L474.16,328.71 L474.24,327.98 L474.33,328.02 L474.42,327.56 L474.50,325.04 L474.59,322.29 L474.68,321.95 L474.76,323.51 L474.85,324.49 L474.94,322.73 L475.03,319.14 L475.11,317.01 L475.11,317.01 L475.20,317.27 L475.29,318.59 L475.37,320.74 L475.46,323.71 L475.55,326.69 L475.63,329.10 L475.72,330.44 L475.81,330.04 L475.89,328.45 L475.98,327.52 L476.07,327.61 L476.15,327.41 L476.24,326.92 L476.33,326.35 L476.42,325.20 L476.50,324.73 L476.59,325.38 L476.68,324.75 L476.76,322.92 L476.85,323.47 L476.94,325.68 L477.02,324.64 L477.11,319.26 L477.20,313.33 L477.28,309.95 L477.37,309.03 L477.40,309.14 L477.46,309.88 L477.54,311.78 L477.63,313.82 L477.72,317.19 L477.81,322.78 L477.89,327.75 L477.98,329.39 L478.07,328.35 L478.15,326.65 L478.24,325.56 L478.33,325.16 L478.41,324.70 L478.50,323.74 L478.59,322.77 L478.61,322.64 L478.67,322.69 L478.76,323.73 L478.85,324.97 L478.93,325.07 L479.02,324.34 L479.11,323.88 L479.20,322.74 L479.28,319.72 L479.37,315.54 L479.46,311.16 L479.54,307.35 L479.57,306.60 L479.63,306.56 L479.72,310.24 L479.80,315.95 L479.89,320.82 L479.98,324.59 L480.06,327.78 L480.15,329.63 L480.24,329.63 L480.32,328.76 L480.41,327.95 L480.50,327.58 L480.59,328.37 L480.67,330.34 L480.76,331.98 L480.85,331.78 L480.93,329.39 L481.02,326.10 L481.11,323.71 L481.19,322.65 L481.28,321.69 L481.37,319.30 L481.45,315.44 L481.54,310.52 L481.63,305.19 L481.72,301.95 L481.74,301.79 L481.80,302.99 L481.89,307.95 L481.98,314.48 L482.06,320.58 L482.15,325.69 L482.24,328.88 L482.32,329.48 L482.41,329.14 L482.50,329.82 L482.58,330.91 L482.67,331.27 L482.76,331.44 L482.84,331.91 L482.93,332.02 L483.02,330.62 L483.11,327.20 L483.19,323.48 L483.28,322.61 L483.37,324.68 L483.45,326.12 L483.54,323.93 L483.63,317.76 L483.71,310.34 L483.80,306.05 L483.89,306.04 L483.92,306.60 L483.97,308.04 L484.06,310.54 L484.15,313.19 L484.23,315.45 L484.32,318.16 L484.41,322.35 L484.50,325.72 L484.58,325.89 L484.67,323.14 L484.76,318.42 L484.84,312.81 L484.93,307.87 L485.00,305.34 L485.02,305.07 L485.10,305.56 L485.19,310.26 L485.28,317.66 L485.36,323.33 L485.45,324.94 L485.54,324.75 L485.62,325.43 L485.71,326.84 L485.80,328.08 L485.89,329.00 L485.97,329.62 L486.06,330.57 L486.15,331.59 L486.23,330.94 L486.32,327.70 L486.41,324.17 L486.49,323.42 L486.58,324.77 L486.67,326.51 L486.75,328.19 L486.84,327.87 L486.93,323.50 L487.01,314.94 L487.02,314.56 L487.10,303.41 L487.19,292.42 L487.28,286.27 L487.32,285.56 L487.36,286.27 L487.45,291.38 L487.54,300.73 L487.62,312.01 L487.71,320.32 L487.80,323.40 L487.88,324.64 L487.97,326.81 L488.06,328.24 L488.14,327.54 L488.23,325.65 L488.32,324.38 L488.40,324.90 L488.49,325.68 L488.58,325.59 L488.67,325.91 L488.75,327.06 L488.84,326.87 L488.93,323.90 L489.01,320.81 L489.10,319.98 L489.13,319.94 L489.19,319.67 L489.27,318.78 L489.36,317.85 L489.45,315.37 L489.53,310.50 L489.62,305.78 L489.71,304.00 L489.71,304.00 L489.79,305.63 L489.88,309.34 L489.97,313.11 L490.06,315.35 L490.14,316.02 L490.23,318.19 L490.32,323.79 L490.40,328.92 L490.49,330.21 L490.58,328.40 L490.66,325.43 L490.75,323.83 L490.84,324.82 L490.92,326.93 L491.01,328.39 L491.10,328.46 L491.18,327.85 L491.27,327.68 L491.36,327.43 L491.45,326.11 L491.53,325.17 L491.62,326.34 L491.71,328.77 L491.79,330.56 L491.88,331.18 L491.97,331.15 L492.05,330.56 L492.14,329.16 L492.23,326.38 L492.31,321.55 L492.40,315.43 L492.49,310.50 L492.58,308.88 L492.60,309.14 L492.66,310.64 L492.75,314.55 L492.84,319.45 L492.92,323.66 L493.01,325.84 L493.10,326.95 L493.18,328.08 L493.27,329.11 L493.36,329.89 L493.44,329.91 L493.53,328.49 L493.62,326.15 L493.70,324.75 L493.79,325.57 L493.88,327.28 L493.97,328.07 L494.05,327.90 L494.14,326.97 L494.23,326.13 L494.31,326.51 L494.40,327.72 L494.49,329.12 L494.57,330.31 L494.66,330.84 L494.75,331.06 L494.83,331.15 L494.92,330.62 L495.01,329.97 L495.09,329.95 L495.18,330.15 L495.27,330.49 L495.36,331.18 L495.44,331.61 L495.53,331.04 L495.62,329.73 L495.70,327.88 L495.79,324.62 L495.88,321.00 L495.96,320.12 L496.05,321.96 L496.14,324.04 L496.22,325.92 L496.31,327.88 L496.40,329.44 L496.48,330.37 L496.57,330.55 L496.66,330.14 L496.75,329.69 L496.83,329.37 L496.92,329.06 L497.01,328.64 L497.09,327.66 L497.18,326.09 L497.27,325.17 L497.35,326.12 L497.44,328.06 L497.53,329.60 L497.61,330.38 L497.70,330.55 L497.79,330.69 L497.87,330.90 L497.96,330.60 L498.05,330.55 L498.14,331.38 L498.22,332.08 L498.31,331.99 L498.40,331.36 L498.48,330.51 L498.57,329.93 L498.66,330.14 L498.74,330.73 L498.83,330.95 L498.92,330.68 L499.00,330.48 L499.09,330.80 L499.18,330.95 L499.26,330.22 L499.35,329.06 L499.44,328.00 L499.53,327.65 L499.61,328.71 L499.70,330.21 L499.79,330.66 L499.87,330.16 L499.96,328.51 L500.05,324.66 L500.13,319.09 L500.22,314.70 L500.28,314.01 L500.31,314.43 L500.39,317.80 L500.48,322.22 L500.53,324.81 L500.57,326.38 L500.65,329.79 L500.74,331.91 L500.83,332.40 L500.92,331.74 L501.00,331.03 L501.09,330.46 L501.18,329.86 L501.26,329.88 L501.35,330.37 L501.44,330.00 L501.52,328.41 L501.61,326.28 L501.70,323.80 L501.78,320.87 L501.87,317.34 L501.96,314.08 L502.02,312.94 L502.04,312.81 L502.13,314.17 L502.22,317.59 L502.31,321.62 L502.39,324.47 L502.48,325.63 L502.57,326.27 L502.65,327.40 L502.74,327.64 L502.83,325.08 L502.91,320.34 L503.00,315.72 L503.09,312.98 L503.10,312.79 L503.17,313.20 L503.26,316.17 L503.35,319.30 L503.44,320.67 L503.52,320.95 L503.61,321.17 L503.69,321.61 L503.70,321.67 L503.78,322.08 L503.87,321.69 L503.96,321.58 L504.04,323.67 L504.13,326.91 L504.22,329.01 L504.30,330.05 L504.39,330.77 L504.48,330.90 L504.56,330.61 L504.65,330.78 L504.74,331.27 L504.83,331.28 L504.91,330.00 L505.00,327.58 L505.09,326.40 L505.17,327.42 L505.26,328.18 L505.35,326.95 L505.43,324.31 L505.52,321.29 L505.61,318.62 L505.64,318.02 L505.69,317.64 L505.78,319.43 L505.87,322.80 L505.95,326.19 L506.04,329.07 L506.13,330.74 L506.22,330.51 L506.30,329.32 L506.39,329.06 L506.48,330.12 L506.56,331.00 L506.65,330.39 L506.74,328.57 L506.82,326.58 L506.91,325.72 L507.00,327.26 L507.08,330.10 L507.17,331.82 L507.26,331.66 L507.34,330.42 L507.43,329.36 L507.52,329.32 L507.61,330.26 L507.69,331.21 L507.78,331.33 L507.87,330.45 L507.95,328.45 L508.04,325.61 L508.13,322.04 L508.21,318.09 L508.30,315.58 L508.33,315.40 L508.39,316.13 L508.47,319.30 L508.56,323.57 L508.65,327.54 L508.73,330.14 L508.82,331.08 L508.91,330.67 L509.00,329.01 L509.08,326.35 L509.17,323.35 L509.26,319.92 L509.34,314.93 L509.43,307.81 L509.52,300.30 L509.60,296.09 L509.62,295.95 L509.69,297.81 L509.78,304.09 L509.86,312.04 L509.95,319.99 L510.04,325.97 L510.12,328.33 L510.21,327.75 L510.30,327.02 L510.39,328.07 L510.47,329.04 L510.56,328.50 L510.65,328.20 L510.73,328.67 L510.82,328.73 L510.91,328.21 L510.99,327.12 L511.08,325.71 L511.17,325.74 L511.25,327.77 L511.34,329.06 L511.43,328.06 L511.51,326.84 L511.60,327.40 L511.69,328.90 L511.78,329.83 L511.86,329.41 L511.95,327.29 L512.04,324.59 L512.12,323.01 L512.21,323.20 L512.30,324.97 L512.38,327.37 L512.47,329.47 L512.56,329.95 L512.64,326.96 L512.73,319.91 L512.82,309.19 L512.90,295.78 L512.99,283.79 L513.08,278.98 L513.09,279.09 L513.17,283.27 L513.25,294.17 L513.34,307.15 L513.43,317.81 L513.51,324.18 L513.60,327.34 L513.69,329.27 L513.77,330.65 L513.86,331.06 L513.95,330.50 L514.03,329.88 L514.12,329.89 L514.21,330.10 L514.30,329.92 L514.38,329.59 L514.47,329.52 L514.56,329.39 L514.64,328.72 L514.73,327.38 L514.82,325.43 L514.90,321.31 L514.98,314.67 L514.99,313.26 L515.08,302.98 L515.16,294.35 L515.25,290.24 L515.27,290.12 L515.34,292.13 L515.42,299.77 L515.51,310.08 L515.60,318.39 L515.69,322.73 L515.77,325.35 L515.86,328.04 L515.95,330.35 L516.03,331.60 L516.12,331.73 L516.21,331.18 L516.29,330.11 L516.38,329.06 L516.47,329.16 L516.55,330.31 L516.64,331.33 L516.73,331.53 L516.81,330.78 L516.90,329.22 L516.99,327.44 L517.08,326.15 L517.15,325.61 L517.16,325.55 L517.25,325.50 L517.34,326.02 L517.42,327.23 L517.51,328.77 L517.60,330.09 L517.68,330.94 L517.77,331.32 L517.86,331.53 L517.94,331.68 L518.03,331.55 L518.12,331.01 L518.20,330.11 L518.29,328.95 L518.38,326.86 L518.47,323.24 L518.55,318.93 L518.64,316.05 L518.67,315.73 L518.73,316.20 L518.81,318.98 L518.90,322.88 L518.99,326.76 L519.07,329.70 L519.16,331.41 L519.25,332.44 L519.33,333.23 L519.42,333.76 L519.51,333.81 L519.59,333.17 L519.68,331.98 L519.77,331.09 L519.86,331.30 L519.94,332.01 L520.03,332.33 L520.12,332.57 L520.20,333.07 L520.29,333.44 L520.38,333.43 L520.46,333.21 L520.55,333.00 L520.64,332.87 L520.72,332.93 L520.81,333.13 L520.90,333.34 L520.98,333.45 L521.07,333.31 L521.16,333.08 L521.25,333.08 L521.33,333.27 L521.42,333.55 L521.51,333.83 L521.59,333.98 L521.68,334.09 L521.77,334.22 L521.85,334.22 L521.94,333.97 L522.03,333.66 L522.11,333.58 L522.20,333.71 L522.29,333.83 L522.37,333.86 L522.46,333.78 L522.55,333.71 L522.64,333.65 L522.72,333.45 L522.81,333.24 L522.90,333.13 L522.98,332.94 L523.07,332.76 L523.16,332.72 L523.24,332.82 L523.33,333.07 L523.42,333.40 L523.50,333.62 L523.59,333.72 L523.68,333.74 L523.76,333.52 L523.85,333.13 L523.94,332.87 L524.03,332.65 L524.11,332.02 L524.20,330.67 L524.29,328.98 L524.37,327.97 L524.46,328.16 L524.55,329.09 L524.63,330.11 L524.72,330.96 L524.81,331.52 L524.89,331.55 L524.98,331.11 L525.07,330.82 L525.16,331.13 L525.24,331.69 L525.33,332.24 L525.42,332.75 L525.50,333.14 L525.59,333.44 L525.68,333.66 L525.76,333.79 L525.85,333.68 L525.94,333.19 L526.02,332.50 L526.11,332.24 L526.20,332.60 L526.28,332.93 L526.37,332.97 L526.46,333.04 L526.55,333.16 L526.63,333.20 L526.72,333.31 L526.81,333.55 L526.89,333.73 L526.98,333.77 L527.07,333.68 L527.15,333.45 L527.24,333.11 L527.33,332.78 L527.41,332.57 L527.50,332.46 L527.59,332.51 L527.67,332.70 L527.76,333.03 L527.85,333.30 L527.94,333.34 L528.02,333.22 L528.11,333.07 L528.20,332.85 L528.28,332.52 L528.37,332.38 L528.46,332.68 L528.54,333.13 L528.63,333.50 L528.72,333.67 L528.80,333.57 L528.89,333.44 L528.98,333.59 L529.06,333.89 L529.15,334.17 L529.24,334.25 L529.33,334.01 L529.41,333.55 L529.50,333.25 L529.59,333.32 L529.67,333.40 L529.76,333.12 L529.85,332.19 L529.93,330.32 L530.02,327.42 L530.11,324.04 L530.19,321.33 L530.25,320.55 L530.28,320.57 L530.37,322.21 L530.45,325.46 L530.54,328.88 L530.63,331.37 L530.72,332.60 L530.80,332.90 L530.89,332.76 L530.98,332.60 L531.06,332.68 L531.15,333.00 L531.24,333.42 L531.32,333.78 L531.41,333.83 L531.50,333.53 L531.58,333.18 L531.67,333.23 L531.76,333.60 L531.84,333.92 L531.93,333.99 L532.02,333.72 L532.11,333.21 L532.19,332.90 L532.28,332.89 L532.37,332.80 L532.45,332.81 L532.54,333.23 L532.63,333.73 L532.71,333.90 L532.80,333.83 L532.89,333.86 L532.97,333.88 L533.06,333.61 L533.15,333.17 L533.23,332.84 L533.32,332.48 L533.41,331.88 L533.50,331.60 L533.58,331.99 L533.67,332.38 L533.76,332.22 L533.84,331.55 L533.93,330.81 L534.02,330.78 L534.10,331.60 L534.19,332.59 L534.28,333.17 L534.36,333.35 L534.45,333.48 L534.54,333.63 L534.62,333.46 L534.71,332.86 L534.80,331.89 L534.89,329.96 L534.97,326.29 L535.06,321.10 L535.15,315.23 L535.23,310.04 L535.32,307.87 L535.41,310.33 L535.49,316.30 L535.58,323.00 L535.67,328.27 L535.75,331.36 L535.84,332.53 L535.93,332.56 L536.02,332.19 L536.10,331.78 L536.19,331.60 L536.28,331.71 L536.36,331.99 L536.45,332.52 L536.54,333.23 L536.62,333.83 L536.71,334.17 L536.80,334.25 L536.88,334.13 L536.97,333.94 L537.06,333.92 L537.14,334.09 L537.23,334.27 L537.32,334.32 L537.41,334.33 L537.49,334.38 L537.58,334.50 L537.67,334.50" fill="none" stroke="#2a9fd0" stroke-width="1.4" stroke-linejoin="round"/>
<line x1="392.80" y1="396.50" x2="392.80" y2="588.50" stroke="#231f20" stroke-width="1.3"/>
<line x1="392.80" y1="588.30" x2="668.00" y2="588.30" stroke="#231f20" stroke-width="1.3"/>
<line x1="388.80" y1="588.00" x2="392.80" y2="588.00" stroke="#231f20" stroke-width="1.1"/>
<text x="386.00" y="591.43" font-size="9.6" text-anchor="end" fill="#231f20" stroke="#231f20" stroke-width="0.08">0.00</text>
<line x1="388.80" y1="560.80" x2="392.80" y2="560.80" stroke="#231f20" stroke-width="1.1"/>
<text x="386.00" y="564.23" font-size="9.6" text-anchor="end" fill="#231f20" stroke="#231f20" stroke-width="0.08">0.05</text>
<line x1="388.80" y1="533.60" x2="392.80" y2="533.60" stroke="#231f20" stroke-width="1.1"/>
<text x="386.00" y="537.03" font-size="9.6" text-anchor="end" fill="#231f20" stroke="#231f20" stroke-width="0.08">0.10</text>
<line x1="388.80" y1="506.40" x2="392.80" y2="506.40" stroke="#231f20" stroke-width="1.1"/>
<text x="386.00" y="509.83" font-size="9.6" text-anchor="end" fill="#231f20" stroke="#231f20" stroke-width="0.08">0.15</text>
<line x1="388.80" y1="479.20" x2="392.80" y2="479.20" stroke="#231f20" stroke-width="1.1"/>
<text x="386.00" y="482.63" font-size="9.6" text-anchor="end" fill="#231f20" stroke="#231f20" stroke-width="0.08">0.20</text>
<line x1="388.80" y1="452.00" x2="392.80" y2="452.00" stroke="#231f20" stroke-width="1.1"/>
<text x="386.00" y="455.43" font-size="9.6" text-anchor="end" fill="#231f20" stroke="#231f20" stroke-width="0.08">0.25</text>
<line x1="388.80" y1="424.80" x2="392.80" y2="424.80" stroke="#231f20" stroke-width="1.1"/>
<text x="386.00" y="428.23" font-size="9.6" text-anchor="end" fill="#231f20" stroke="#231f20" stroke-width="0.08">0.30</text>
<line x1="388.80" y1="397.60" x2="392.80" y2="397.60" stroke="#231f20" stroke-width="1.1"/>
<text x="386.00" y="401.03" font-size="9.6" text-anchor="end" fill="#231f20" stroke="#231f20" stroke-width="0.08">0.35</text>
<line x1="392.80" y1="588.30" x2="392.80" y2="591.60" stroke="#231f20" stroke-width="1.1"/>
<text x="392.80" y="603.03" font-size="9.6" text-anchor="middle" fill="#231f20" stroke="#231f20" stroke-width="0.08">0</text>
<line x1="413.90" y1="588.30" x2="413.90" y2="591.60" stroke="#231f20" stroke-width="1.1"/>
<text x="413.90" y="603.03" font-size="9.6" text-anchor="middle" fill="#231f20" stroke="#231f20" stroke-width="0.08">1</text>
<line x1="435.00" y1="588.30" x2="435.00" y2="591.60" stroke="#231f20" stroke-width="1.1"/>
<text x="435.00" y="603.03" font-size="9.6" text-anchor="middle" fill="#231f20" stroke="#231f20" stroke-width="0.08">2</text>
<line x1="456.10" y1="588.30" x2="456.10" y2="591.60" stroke="#231f20" stroke-width="1.1"/>
<text x="456.10" y="603.03" font-size="9.6" text-anchor="middle" fill="#231f20" stroke="#231f20" stroke-width="0.08">3</text>
<line x1="477.20" y1="588.30" x2="477.20" y2="591.60" stroke="#231f20" stroke-width="1.1"/>
<text x="477.20" y="603.03" font-size="9.6" text-anchor="middle" fill="#231f20" stroke="#231f20" stroke-width="0.08">4</text>
<line x1="498.30" y1="588.30" x2="498.30" y2="591.60" stroke="#231f20" stroke-width="1.1"/>
<text x="498.30" y="603.03" font-size="9.6" text-anchor="middle" fill="#231f20" stroke="#231f20" stroke-width="0.08">5</text>
<line x1="519.40" y1="588.30" x2="519.40" y2="591.60" stroke="#231f20" stroke-width="1.1"/>
<text x="519.40" y="603.03" font-size="9.6" text-anchor="middle" fill="#231f20" stroke="#231f20" stroke-width="0.08">6</text>
<line x1="540.50" y1="588.30" x2="540.50" y2="591.60" stroke="#231f20" stroke-width="1.1"/>
<text x="540.50" y="603.03" font-size="9.6" text-anchor="middle" fill="#231f20" stroke="#231f20" stroke-width="0.08">7</text>
<line x1="561.60" y1="588.30" x2="561.60" y2="591.60" stroke="#231f20" stroke-width="1.1"/>
<text x="561.60" y="603.03" font-size="9.6" text-anchor="middle" fill="#231f20" stroke="#231f20" stroke-width="0.08">8</text>
<line x1="582.70" y1="588.30" x2="582.70" y2="591.60" stroke="#231f20" stroke-width="1.1"/>
<text x="582.70" y="603.03" font-size="9.6" text-anchor="middle" fill="#231f20" stroke="#231f20" stroke-width="0.08">9</text>
<line x1="603.80" y1="588.30" x2="603.80" y2="591.60" stroke="#231f20" stroke-width="1.1"/>
<text x="603.80" y="603.03" font-size="9.6" text-anchor="middle" fill="#231f20" stroke="#231f20" stroke-width="0.08">10</text>
<line x1="624.90" y1="588.30" x2="624.90" y2="591.60" stroke="#231f20" stroke-width="1.1"/>
<text x="624.90" y="603.03" font-size="9.6" text-anchor="middle" fill="#231f20" stroke="#231f20" stroke-width="0.08">11</text>
<line x1="646.00" y1="588.30" x2="646.00" y2="591.60" stroke="#231f20" stroke-width="1.1"/>
<text x="646.00" y="603.03" font-size="9.6" text-anchor="middle" fill="#231f20" stroke="#231f20" stroke-width="0.08">12</text>
<text x="530.00" y="617.43" font-size="9.6" text-anchor="middle" fill="#231f20" stroke="#231f20" stroke-width="0.08">Dynamic range of TMT quantification (log2)</text>
<text transform="translate(354.3,492.8) rotate(-90)" font-size="9.6" text-anchor="middle" fill="#231f20" stroke="#231f20" stroke-width="0.08" y="3.43">Density</text>
<path d="M392.80,588.00 L393.35,587.99 L393.90,587.82 L394.45,587.65 L395.00,587.45 L395.55,587.23 L396.10,586.98 L396.65,586.69 L397.20,586.35 L397.75,585.96 L398.30,585.51 L398.85,584.99 L399.40,584.38 L399.95,583.68 L400.50,582.88 L401.05,581.95 L401.60,580.91 L402.14,579.72 L402.69,578.39 L403.24,576.90 L403.79,575.25 L404.34,573.46 L404.89,571.52 L405.44,569.45 L405.99,567.26 L406.54,564.95 L407.09,562.54 L407.64,560.02 L408.19,557.42 L408.74,554.74 L409.29,551.98 L409.84,549.17 L410.39,546.30 L410.94,543.38 L411.49,540.43 L412.04,537.46 L412.59,534.47 L413.14,531.46 L413.69,528.43 L414.24,525.39 L414.79,522.33 L415.34,519.24 L415.89,516.14 L416.44,513.01 L416.99,509.85 L417.54,506.67 L418.09,503.45 L418.64,500.19 L419.19,496.89 L419.74,493.53 L420.28,490.11 L420.83,486.62 L421.38,483.08 L421.93,479.49 L422.48,475.90 L423.03,472.31 L423.58,468.76 L424.13,465.26 L424.68,461.83 L425.23,458.50 L425.78,455.26 L426.33,452.12 L426.88,449.08 L427.43,446.15 L427.98,443.34 L428.53,440.65 L429.08,438.09 L429.63,435.66 L430.18,433.37 L430.73,431.23 L431.28,429.25 L431.83,427.44 L432.38,425.79 L432.93,424.32 L433.48,423.03 L434.03,421.90 L434.58,420.93 L435.13,420.11 L435.68,419.42 L436.23,418.86 L436.78,418.42 L437.33,418.09 L437.88,417.85 L438.43,417.70 L438.97,417.63 L439.52,417.63 L440.07,417.69 L440.62,417.81 L441.17,417.99 L441.72,418.23 L442.27,418.53 L442.82,418.89 L443.37,419.32 L443.92,419.81 L444.47,420.37 L445.02,421.00 L445.57,421.69 L446.12,422.46 L446.67,423.30 L447.22,424.20 L447.77,425.17 L448.32,426.20 L448.87,427.27 L449.42,428.39 L449.97,429.56 L450.52,430.76 L451.07,431.99 L451.62,433.25 L452.17,434.52 L452.72,435.82 L453.27,437.12 L453.82,438.43 L454.37,439.74 L454.92,441.04 L455.47,442.34 L456.02,443.65 L456.57,444.95 L457.11,446.25 L457.66,447.56 L458.21,448.87 L458.76,450.18 L459.31,451.50 L459.86,452.83 L460.41,454.17 L460.96,455.52 L461.51,456.88 L462.06,458.25 L462.61,459.63 L463.16,461.03 L463.71,462.44 L464.26,463.88 L464.81,465.33 L465.36,466.80 L465.91,468.29 L466.46,469.80 L467.01,471.32 L467.56,472.84 L468.11,474.36 L468.66,475.86 L469.21,477.34 L469.76,478.78 L470.31,480.18 L470.86,481.54 L471.41,482.86 L471.96,484.14 L472.51,485.38 L473.06,486.59 L473.61,487.78 L474.16,488.93 L474.71,490.07 L475.25,491.19 L475.80,492.29 L476.35,493.37 L476.90,494.45 L477.45,495.52 L478.00,496.59 L478.55,497.66 L479.10,498.72 L479.65,499.79 L480.20,500.86 L480.75,501.94 L481.30,503.01 L481.85,504.09 L482.40,505.17 L482.95,506.26 L483.50,507.35 L484.05,508.45 L484.60,509.56 L485.15,510.67 L485.70,511.79 L486.25,512.91 L486.80,514.05 L487.35,515.19 L487.90,516.34 L488.45,517.49 L489.00,518.65 L489.55,519.81 L490.10,520.98 L490.65,522.15 L491.20,523.32 L491.75,524.49 L492.30,525.66 L492.85,526.83 L493.39,527.99 L493.94,529.16 L494.49,530.32 L495.04,531.47 L495.59,532.62 L496.14,533.76 L496.69,534.89 L497.24,536.02 L497.79,537.13 L498.34,538.24 L498.89,539.34 L499.44,540.42 L499.99,541.49 L500.54,542.54 L501.09,543.58 L501.64,544.61 L502.19,545.62 L502.74,546.61 L503.29,547.59 L503.84,548.55 L504.39,549.50 L504.94,550.42 L505.49,551.33 L506.04,552.21 L506.59,553.08 L507.14,553.92 L507.69,554.75 L508.24,555.55 L508.79,556.33 L509.34,557.09 L509.89,557.83 L510.44,558.54 L510.99,559.23 L511.54,559.91 L512.08,560.56 L512.63,561.19 L513.18,561.81 L513.73,562.41 L514.28,562.99 L514.83,563.56 L515.38,564.11 L515.93,564.64 L516.48,565.16 L517.03,565.67 L517.58,566.17 L518.13,566.65 L518.68,567.12 L519.23,567.58 L519.78,568.03 L520.33,568.47 L520.88,568.90 L521.43,569.32 L521.98,569.74 L522.53,570.14 L523.08,570.53 L523.63,570.92 L524.18,571.30 L524.73,571.66 L525.28,572.02 L525.83,572.38 L526.38,572.72 L526.93,573.06 L527.48,573.39 L528.03,573.71 L528.58,574.02 L529.13,574.33 L529.68,574.63 L530.22,574.93 L530.77,575.22 L531.32,575.50 L531.87,575.78 L532.42,576.05 L532.97,576.31 L533.52,576.57 L534.07,576.82 L534.62,577.07 L535.17,577.32 L535.72,577.55 L536.27,577.79 L536.82,578.02 L537.37,578.24 L537.92,578.47 L538.47,578.68 L539.02,578.90 L539.57,579.11 L540.12,579.32 L540.67,579.52 L541.22,579.72 L541.77,579.92 L542.32,580.11 L542.87,580.30 L543.42,580.49 L543.97,580.68 L544.52,580.86 L545.07,581.04 L545.62,581.21 L546.17,581.39 L546.72,581.56 L547.27,581.72 L547.82,581.89 L548.36,582.05 L548.91,582.20 L549.46,582.36 L550.01,582.51 L550.56,582.66 L551.11,582.80 L551.66,582.94 L552.21,583.08 L552.76,583.22 L553.31,583.35 L553.86,583.48 L554.41,583.61 L554.96,583.74 L555.51,583.86 L556.06,583.97 L556.61,584.09 L557.16,584.20 L557.71,584.31 L558.26,584.42 L558.81,584.52 L559.36,584.62 L559.91,584.72 L560.46,584.82 L561.01,584.91 L561.56,585.00 L562.11,585.09 L562.66,585.17 L563.21,585.25 L563.76,585.33 L564.31,585.41 L564.86,585.48 L565.41,585.55 L565.96,585.62 L566.51,585.69 L567.05,585.75 L567.60,585.81 L568.15,585.87 L568.70,585.93 L569.25,585.99 L569.80,586.04 L570.35,586.09 L570.90,586.14 L571.45,586.19 L572.00,586.24 L572.55,586.28 L573.10,586.33 L573.65,586.37 L574.20,586.41 L574.75,586.45 L575.30,586.49 L575.85,586.52 L576.40,586.56 L576.95,586.59 L577.50,586.63 L578.05,586.66 L578.60,586.69 L579.15,586.73 L579.70,586.76 L580.25,586.79 L580.80,586.82 L581.35,586.84 L581.90,586.87 L582.45,586.90 L583.00,586.93 L583.55,586.96 L584.10,586.98 L584.65,587.01 L585.19,587.04 L585.74,587.06 L586.29,587.09 L586.84,587.11 L587.39,587.14 L587.94,587.16 L588.49,587.19 L589.04,587.21 L589.59,587.24 L590.14,587.26 L590.69,587.28 L591.24,587.31 L591.79,587.33 L592.34,587.35 L592.89,587.37 L593.44,587.40 L593.99,587.42 L594.54,587.44 L595.09,587.46 L595.64,587.48 L596.19,587.50 L596.74,587.52 L597.29,587.54 L597.84,587.55 L598.39,587.57 L598.94,587.59 L599.49,587.61 L600.04,587.62 L600.59,587.64 L601.14,587.66 L601.69,587.67 L602.24,587.69 L602.79,587.70 L603.33,587.72 L603.88,587.73 L604.43,587.74 L604.98,587.76 L605.53,587.77 L606.08,587.78 L606.63,587.79 L607.18,587.80 L607.73,587.81 L608.28,587.82 L608.83,587.83 L609.38,587.84 L609.93,587.85 L610.48,587.86 L611.03,587.87 L611.58,587.88 L612.13,587.89 L612.68,587.89 L613.23,587.90 L613.78,587.91 L614.33,587.92 L614.88,587.92 L615.43,587.93 L615.98,587.93 L616.53,587.94 L617.08,587.94 L617.63,587.95 L618.18,587.95 L618.73,587.96 L619.28,587.96 L619.83,587.97 L620.38,587.97 L620.93,587.98 L621.47,587.98 L622.02,587.98 L622.57,587.99 L623.12,587.99 L623.67,587.99 L624.22,588.00 L624.77,588.00 L625.32,588.00 L625.87,588.00 L626.42,588.00 L626.97,588.00 L627.52,588.00 L628.07,588.00 L628.62,588.00 L629.17,588.00 L629.72,588.00 L630.27,588.00 L630.82,588.00 L631.37,588.00 L631.92,588.00 L632.47,588.00 L633.02,588.00 L633.57,588.00 L634.12,588.00 L634.67,588.00 L635.22,588.00 L635.77,588.00 L636.32,588.00 L636.87,588.00 L637.42,588.00 L637.97,588.00 L638.52,588.00 L639.07,588.00 L639.62,588.00 L640.16,588.00 L640.71,588.00 L641.26,588.00 L641.81,588.00 L642.36,588.00 L642.91,588.00 L643.46,588.00 L644.01,588.00 L644.56,588.00 L645.11,588.00 L645.66,588.00 L646.21,588.00 L646.76,588.00 L647.31,588.00 L647.86,588.00 L648.41,588.00 L648.96,588.00 L649.51,588.00 L650.06,588.00 L650.61,588.00 L651.16,588.00 L651.71,588.00 L652.26,588.00 L652.81,588.00 L653.36,588.00 L653.91,588.00 L654.46,588.00 L655.01,588.00 L655.56,588.00 L656.11,588.00 L656.66,588.00 L657.21,588.00 L657.76,588.00 L658.30,588.00 L658.85,588.00 L659.40,588.00 L659.95,588.00 L660.50,588.00 L661.05,588.00 L661.60,588.00 L662.15,588.00 L662.70,588.00 L663.25,588.00 L663.80,588.00 L664.35,588.00 L664.90,588.00 L665.45,588.00 L666.00,588.00 L666.55,588.00 L667.10,588.00" fill="none" stroke="#1a1a1a" stroke-width="1.45"/>
<path d="M392.80,588.00 L393.35,588.00 L393.90,587.91 L394.45,587.80 L395.00,587.67 L395.55,587.53 L396.10,587.37 L396.65,587.17 L397.20,586.94 L397.75,586.68 L398.30,586.36 L398.85,585.99 L399.40,585.55 L399.95,585.04 L400.50,584.43 L401.05,583.74 L401.60,582.93 L402.14,582.01 L402.69,580.97 L403.24,579.80 L403.79,578.48 L404.34,577.02 L404.89,575.42 L405.44,573.68 L405.99,571.81 L406.54,569.81 L407.09,567.68 L407.64,565.43 L408.19,563.06 L408.74,560.57 L409.29,557.98 L409.84,555.28 L410.39,552.50 L410.94,549.64 L411.49,546.73 L412.04,543.78 L412.59,540.79 L413.14,537.79 L413.69,534.78 L414.24,531.77 L414.79,528.77 L415.34,525.78 L415.89,522.81 L416.44,519.85 L416.99,516.91 L417.54,513.99 L418.09,511.10 L418.64,508.24 L419.19,505.39 L419.74,502.56 L420.28,499.74 L420.83,496.92 L421.38,494.10 L421.93,491.27 L422.48,488.42 L423.03,485.56 L423.58,482.68 L424.13,479.81 L424.68,476.95 L425.23,474.10 L425.78,471.29 L426.33,468.53 L426.88,465.81 L427.43,463.17 L427.98,460.59 L428.53,458.10 L429.08,455.69 L429.63,453.38 L430.18,451.16 L430.73,449.04 L431.28,447.03 L431.83,445.13 L432.38,443.35 L432.93,441.70 L433.48,440.17 L434.03,438.76 L434.58,437.47 L435.13,436.29 L435.68,435.23 L436.23,434.26 L436.78,433.40 L437.33,432.64 L437.88,431.97 L438.43,431.38 L438.97,430.88 L439.52,430.46 L440.07,430.12 L440.62,429.84 L441.17,429.64 L441.72,429.50 L442.27,429.41 L442.82,429.38 L443.37,429.41 L443.92,429.47 L444.47,429.59 L445.02,429.75 L445.57,429.95 L446.12,430.19 L446.67,430.47 L447.22,430.79 L447.77,431.15 L448.32,431.54 L448.87,431.97 L449.42,432.44 L449.97,432.93 L450.52,433.46 L451.07,434.02 L451.62,434.61 L452.17,435.22 L452.72,435.87 L453.27,436.54 L453.82,437.23 L454.37,437.96 L454.92,438.71 L455.47,439.51 L456.02,440.34 L456.57,441.22 L457.11,442.13 L457.66,443.10 L458.21,444.12 L458.76,445.19 L459.31,446.32 L459.86,447.51 L460.41,448.76 L460.96,450.08 L461.51,451.47 L462.06,452.91 L462.61,454.41 L463.16,455.96 L463.71,457.55 L464.26,459.17 L464.81,460.81 L465.36,462.47 L465.91,464.14 L466.46,465.82 L467.01,467.49 L467.56,469.15 L468.11,470.79 L468.66,472.40 L469.21,473.98 L469.76,475.52 L470.31,477.01 L470.86,478.45 L471.41,479.84 L471.96,481.19 L472.51,482.50 L473.06,483.77 L473.61,485.00 L474.16,486.19 L474.71,487.36 L475.25,488.50 L475.80,489.61 L476.35,490.70 L476.90,491.76 L477.45,492.81 L478.00,493.85 L478.55,494.87 L479.10,495.89 L479.65,496.89 L480.20,497.89 L480.75,498.87 L481.30,499.86 L481.85,500.83 L482.40,501.80 L482.95,502.77 L483.50,503.73 L484.05,504.70 L484.60,505.66 L485.15,506.62 L485.70,507.59 L486.25,508.56 L486.80,509.53 L487.35,510.50 L487.90,511.48 L488.45,512.47 L489.00,513.45 L489.55,514.45 L490.10,515.44 L490.65,516.44 L491.20,517.44 L491.75,518.45 L492.30,519.46 L492.85,520.47 L493.39,521.49 L493.94,522.52 L494.49,523.54 L495.04,524.57 L495.59,525.61 L496.14,526.65 L496.69,527.69 L497.24,528.74 L497.79,529.79 L498.34,530.84 L498.89,531.90 L499.44,532.97 L499.99,534.03 L500.54,535.10 L501.09,536.18 L501.64,537.25 L502.19,538.32 L502.74,539.39 L503.29,540.45 L503.84,541.51 L504.39,542.55 L504.94,543.58 L505.49,544.60 L506.04,545.60 L506.59,546.58 L507.14,547.55 L507.69,548.49 L508.24,549.41 L508.79,550.30 L509.34,551.16 L509.89,551.99 L510.44,552.80 L510.99,553.58 L511.54,554.34 L512.08,555.08 L512.63,555.79 L513.18,556.47 L513.73,557.14 L514.28,557.79 L514.83,558.41 L515.38,559.02 L515.93,559.61 L516.48,560.19 L517.03,560.75 L517.58,561.29 L518.13,561.82 L518.68,562.33 L519.23,562.84 L519.78,563.33 L520.33,563.81 L520.88,564.29 L521.43,564.75 L521.98,565.20 L522.53,565.64 L523.08,566.07 L523.63,566.49 L524.18,566.90 L524.73,567.31 L525.28,567.70 L525.83,568.09 L526.38,568.47 L526.93,568.84 L527.48,569.20 L528.03,569.55 L528.58,569.90 L529.13,570.24 L529.68,570.57 L530.22,570.90 L530.77,571.21 L531.32,571.53 L531.87,571.83 L532.42,572.13 L532.97,572.43 L533.52,572.72 L534.07,573.00 L534.62,573.28 L535.17,573.55 L535.72,573.82 L536.27,574.09 L536.82,574.35 L537.37,574.61 L537.92,574.86 L538.47,575.11 L539.02,575.35 L539.57,575.60 L540.12,575.84 L540.67,576.08 L541.22,576.31 L541.77,576.54 L542.32,576.77 L542.87,577.00 L543.42,577.22 L543.97,577.45 L544.52,577.66 L545.07,577.88 L545.62,578.09 L546.17,578.31 L546.72,578.51 L547.27,578.72 L547.82,578.92 L548.36,579.12 L548.91,579.32 L549.46,579.51 L550.01,579.71 L550.56,579.90 L551.11,580.08 L551.66,580.27 L552.21,580.45 L552.76,580.63 L553.31,580.80 L553.86,580.97 L554.41,581.14 L554.96,581.31 L555.51,581.47 L556.06,581.64 L556.61,581.79 L557.16,581.95 L557.71,582.10 L558.26,582.25 L558.81,582.40 L559.36,582.54 L559.91,582.69 L560.46,582.82 L561.01,582.96 L561.56,583.09 L562.11,583.22 L562.66,583.35 L563.21,583.47 L563.76,583.60 L564.31,583.72 L564.86,583.83 L565.41,583.94 L565.96,584.06 L566.51,584.16 L567.05,584.27 L567.60,584.37 L568.15,584.47 L568.70,584.57 L569.25,584.67 L569.80,584.76 L570.35,584.85 L570.90,584.94 L571.45,585.03 L572.00,585.11 L572.55,585.20 L573.10,585.28 L573.65,585.35 L574.20,585.43 L574.75,585.50 L575.30,585.58 L575.85,585.65 L576.40,585.71 L576.95,585.78 L577.50,585.84 L578.05,585.91 L578.60,585.97 L579.15,586.03 L579.70,586.08 L580.25,586.14 L580.80,586.19 L581.35,586.25 L581.90,586.30 L582.45,586.35 L583.00,586.39 L583.55,586.44 L584.10,586.48 L584.65,586.53 L585.19,586.57 L585.74,586.61 L586.29,586.65 L586.84,586.69 L587.39,586.73 L587.94,586.76 L588.49,586.80 L589.04,586.83 L589.59,586.86 L590.14,586.90 L590.69,586.93 L591.24,586.96 L591.79,586.98 L592.34,587.01 L592.89,587.04 L593.44,587.07 L593.99,587.09 L594.54,587.12 L595.09,587.14 L595.64,587.16 L596.19,587.19 L596.74,587.21 L597.29,587.23 L597.84,587.25 L598.39,587.27 L598.94,587.29 L599.49,587.31 L600.04,587.33 L600.59,587.35 L601.14,587.37 L601.69,587.39 L602.24,587.41 L602.79,587.42 L603.33,587.44 L603.88,587.46 L604.43,587.48 L604.98,587.49 L605.53,587.51 L606.08,587.53 L606.63,587.55 L607.18,587.56 L607.73,587.58 L608.28,587.60 L608.83,587.61 L609.38,587.63 L609.93,587.65 L610.48,587.66 L611.03,587.68 L611.58,587.69 L612.13,587.71 L612.68,587.72 L613.23,587.74 L613.78,587.75 L614.33,587.77 L614.88,587.78 L615.43,587.80 L615.98,587.81 L616.53,587.83 L617.08,587.84 L617.63,587.85 L618.18,587.87 L618.73,587.88 L619.28,587.89 L619.83,587.90 L620.38,587.91 L620.93,587.93 L621.47,587.94 L622.02,587.95 L622.57,587.96 L623.12,587.97 L623.67,587.98 L624.22,587.99 L624.77,588.00 L625.32,588.00 L625.87,588.00 L626.42,588.00 L626.97,588.00 L627.52,588.00 L628.07,588.00 L628.62,588.00 L629.17,588.00 L629.72,588.00 L630.27,588.00 L630.82,588.00 L631.37,588.00 L631.92,588.00 L632.47,588.00 L633.02,588.00 L633.57,588.00 L634.12,588.00 L634.67,588.00 L635.22,588.00 L635.77,588.00 L636.32,588.00 L636.87,588.00 L637.42,588.00 L637.97,588.00 L638.52,588.00 L639.07,588.00 L639.62,588.00 L640.16,588.00 L640.71,588.00 L641.26,588.00 L641.81,588.00 L642.36,588.00 L642.91,588.00 L643.46,588.00 L644.01,588.00 L644.56,588.00 L645.11,588.00 L645.66,588.00 L646.21,588.00 L646.76,588.00 L647.31,588.00 L647.86,588.00 L648.41,588.00 L648.96,588.00 L649.51,588.00 L650.06,588.00 L650.61,588.00 L651.16,588.00 L651.71,588.00 L652.26,588.00 L652.81,588.00 L653.36,588.00 L653.91,588.00 L654.46,588.00 L655.01,588.00 L655.56,588.00 L656.11,588.00 L656.66,588.00 L657.21,588.00 L657.76,588.00 L658.30,588.00 L658.85,588.00 L659.40,588.00 L659.95,588.00 L660.50,588.00 L661.05,588.00 L661.60,588.00 L662.15,588.00 L662.70,588.00 L663.25,588.00 L663.80,588.00 L664.35,588.00 L664.90,588.00 L665.45,588.00 L666.00,588.00 L666.55,588.00 L667.10,588.00" fill="none" stroke="#4a72b8" stroke-width="1.45"/>
<path d="M392.80,588.00 L393.35,587.98 L393.90,587.87 L394.45,587.75 L395.00,587.62 L395.55,587.47 L396.10,587.31 L396.65,587.11 L397.20,586.90 L397.75,586.64 L398.30,586.35 L398.85,586.02 L399.40,585.63 L399.95,585.18 L400.50,584.67 L401.05,584.08 L401.60,583.42 L402.14,582.67 L402.69,581.83 L403.24,580.90 L403.79,579.86 L404.34,578.71 L404.89,577.47 L405.44,576.13 L405.99,574.69 L406.54,573.17 L407.09,571.56 L407.64,569.87 L408.19,568.09 L408.74,566.24 L409.29,564.32 L409.84,562.33 L410.39,560.26 L410.94,558.14 L411.49,555.96 L412.04,553.71 L412.59,551.42 L413.14,549.07 L413.69,546.67 L414.24,544.22 L414.79,541.73 L415.34,539.20 L415.89,536.64 L416.44,534.03 L416.99,531.38 L417.54,528.69 L418.09,525.95 L418.64,523.14 L419.19,520.28 L419.74,517.34 L420.28,514.33 L420.83,511.24 L421.38,508.08 L421.93,504.87 L422.48,501.63 L423.03,498.38 L423.58,495.15 L424.13,491.96 L424.68,488.84 L425.23,485.80 L425.78,482.85 L426.33,479.99 L426.88,477.21 L427.43,474.53 L427.98,471.94 L428.53,469.44 L429.08,467.03 L429.63,464.71 L430.18,462.49 L430.73,460.36 L431.28,458.33 L431.83,456.40 L432.38,454.56 L432.93,452.82 L433.48,451.17 L434.03,449.63 L434.58,448.18 L435.13,446.84 L435.68,445.59 L436.23,444.45 L436.78,443.41 L437.33,442.48 L437.88,441.63 L438.43,440.88 L438.97,440.21 L439.52,439.63 L440.07,439.12 L440.62,438.68 L441.17,438.31 L441.72,438.01 L442.27,437.76 L442.82,437.56 L443.37,437.41 L443.92,437.30 L444.47,437.23 L445.02,437.20 L445.57,437.21 L446.12,437.26 L446.67,437.34 L447.22,437.47 L447.77,437.63 L448.32,437.84 L448.87,438.08 L449.42,438.37 L449.97,438.69 L450.52,439.06 L451.07,439.46 L451.62,439.91 L452.17,440.39 L452.72,440.92 L453.27,441.49 L453.82,442.10 L454.37,442.75 L454.92,443.44 L455.47,444.17 L456.02,444.95 L456.57,445.76 L457.11,446.61 L457.66,447.49 L458.21,448.41 L458.76,449.36 L459.31,450.34 L459.86,451.34 L460.41,452.37 L460.96,453.42 L461.51,454.50 L462.06,455.59 L462.61,456.70 L463.16,457.83 L463.71,458.96 L464.26,460.11 L464.81,461.27 L465.36,462.44 L465.91,463.61 L466.46,464.79 L467.01,465.96 L467.56,467.14 L468.11,468.31 L468.66,469.48 L469.21,470.64 L469.76,471.79 L470.31,472.93 L470.86,474.07 L471.41,475.19 L471.96,476.29 L472.51,477.39 L473.06,478.48 L473.61,479.56 L474.16,480.62 L474.71,481.68 L475.25,482.73 L475.80,483.77 L476.35,484.80 L476.90,485.82 L477.45,486.83 L478.00,487.83 L478.55,488.82 L479.10,489.81 L479.65,490.79 L480.20,491.76 L480.75,492.72 L481.30,493.68 L481.85,494.63 L482.40,495.57 L482.95,496.50 L483.50,497.43 L484.05,498.36 L484.60,499.27 L485.15,500.19 L485.70,501.09 L486.25,502.00 L486.80,502.90 L487.35,503.79 L487.90,504.68 L488.45,505.57 L489.00,506.45 L489.55,507.34 L490.10,508.23 L490.65,509.11 L491.20,510.00 L491.75,510.89 L492.30,511.78 L492.85,512.67 L493.39,513.57 L493.94,514.48 L494.49,515.39 L495.04,516.30 L495.59,517.23 L496.14,518.16 L496.69,519.10 L497.24,520.05 L497.79,521.01 L498.34,521.98 L498.89,522.96 L499.44,523.96 L499.99,524.96 L500.54,525.99 L501.09,527.02 L501.64,528.06 L502.19,529.11 L502.74,530.17 L503.29,531.23 L503.84,532.29 L504.39,533.35 L504.94,534.41 L505.49,535.47 L506.04,536.52 L506.59,537.56 L507.14,538.59 L507.69,539.61 L508.24,540.61 L508.79,541.60 L509.34,542.57 L509.89,543.52 L510.44,544.46 L510.99,545.37 L511.54,546.27 L512.08,547.15 L512.63,548.01 L513.18,548.86 L513.73,549.69 L514.28,550.50 L514.83,551.29 L515.38,552.06 L515.93,552.82 L516.48,553.56 L517.03,554.28 L517.58,554.99 L518.13,555.68 L518.68,556.35 L519.23,557.00 L519.78,557.64 L520.33,558.27 L520.88,558.87 L521.43,559.46 L521.98,560.04 L522.53,560.60 L523.08,561.14 L523.63,561.68 L524.18,562.19 L524.73,562.70 L525.28,563.19 L525.83,563.67 L526.38,564.13 L526.93,564.59 L527.48,565.03 L528.03,565.46 L528.58,565.89 L529.13,566.30 L529.68,566.70 L530.22,567.09 L530.77,567.47 L531.32,567.84 L531.87,568.21 L532.42,568.56 L532.97,568.91 L533.52,569.25 L534.07,569.59 L534.62,569.91 L535.17,570.24 L535.72,570.55 L536.27,570.86 L536.82,571.17 L537.37,571.47 L537.92,571.76 L538.47,572.05 L539.02,572.34 L539.57,572.63 L540.12,572.91 L540.67,573.19 L541.22,573.46 L541.77,573.74 L542.32,574.01 L542.87,574.28 L543.42,574.54 L543.97,574.81 L544.52,575.07 L545.07,575.32 L545.62,575.58 L546.17,575.83 L546.72,576.08 L547.27,576.32 L547.82,576.56 L548.36,576.80 L548.91,577.04 L549.46,577.27 L550.01,577.50 L550.56,577.73 L551.11,577.95 L551.66,578.17 L552.21,578.38 L552.76,578.59 L553.31,578.80 L553.86,579.01 L554.41,579.21 L554.96,579.40 L555.51,579.60 L556.06,579.79 L556.61,579.97 L557.16,580.15 L557.71,580.33 L558.26,580.50 L558.81,580.67 L559.36,580.84 L559.91,581.00 L560.46,581.16 L561.01,581.31 L561.56,581.46 L562.11,581.60 L562.66,581.74 L563.21,581.88 L563.76,582.01 L564.31,582.14 L564.86,582.26 L565.41,582.38 L565.96,582.50 L566.51,582.61 L567.05,582.72 L567.60,582.82 L568.15,582.93 L568.70,583.03 L569.25,583.13 L569.80,583.22 L570.35,583.31 L570.90,583.40 L571.45,583.49 L572.00,583.57 L572.55,583.65 L573.10,583.73 L573.65,583.81 L574.20,583.89 L574.75,583.96 L575.30,584.03 L575.85,584.11 L576.40,584.18 L576.95,584.24 L577.50,584.31 L578.05,584.38 L578.60,584.44 L579.15,584.50 L579.70,584.57 L580.25,584.63 L580.80,584.69 L581.35,584.75 L581.90,584.81 L582.45,584.87 L583.00,584.93 L583.55,585.00 L584.10,585.06 L584.65,585.12 L585.19,585.18 L585.74,585.24 L586.29,585.30 L586.84,585.35 L587.39,585.41 L587.94,585.47 L588.49,585.53 L589.04,585.59 L589.59,585.65 L590.14,585.70 L590.69,585.76 L591.24,585.82 L591.79,585.87 L592.34,585.93 L592.89,585.98 L593.44,586.04 L593.99,586.09 L594.54,586.14 L595.09,586.19 L595.64,586.25 L596.19,586.30 L596.74,586.35 L597.29,586.40 L597.84,586.44 L598.39,586.49 L598.94,586.54 L599.49,586.58 L600.04,586.63 L600.59,586.67 L601.14,586.72 L601.69,586.76 L602.24,586.80 L602.79,586.84 L603.33,586.88 L603.88,586.92 L604.43,586.95 L604.98,586.99 L605.53,587.02 L606.08,587.06 L606.63,587.09 L607.18,587.12 L607.73,587.15 L608.28,587.18 L608.83,587.21 L609.38,587.24 L609.93,587.26 L610.48,587.29 L611.03,587.31 L611.58,587.34 L612.13,587.36 L612.68,587.38 L613.23,587.41 L613.78,587.43 L614.33,587.45 L614.88,587.47 L615.43,587.49 L615.98,587.50 L616.53,587.52 L617.08,587.54 L617.63,587.56 L618.18,587.57 L618.73,587.59 L619.28,587.60 L619.83,587.62 L620.38,587.63 L620.93,587.64 L621.47,587.66 L622.02,587.67 L622.57,587.68 L623.12,587.69 L623.67,587.70 L624.22,587.72 L624.77,587.73 L625.32,587.74 L625.87,587.75 L626.42,587.76 L626.97,587.77 L627.52,587.78 L628.07,587.79 L628.62,587.79 L629.17,587.80 L629.72,587.81 L630.27,587.82 L630.82,587.83 L631.37,587.83 L631.92,587.84 L632.47,587.85 L633.02,587.86 L633.57,587.86 L634.12,587.87 L634.67,587.88 L635.22,587.88 L635.77,587.89 L636.32,587.89 L636.87,587.90 L637.42,587.91 L637.97,587.91 L638.52,587.92 L639.07,587.92 L639.62,587.92 L640.16,587.93 L640.71,587.93 L641.26,587.94 L641.81,587.94 L642.36,587.94 L642.91,587.95 L643.46,587.95 L644.01,587.96 L644.56,587.96 L645.11,587.96 L645.66,587.96 L646.21,587.97 L646.76,587.97 L647.31,587.97 L647.86,587.97 L648.41,587.98 L648.96,587.98 L649.51,587.98 L650.06,587.98 L650.61,587.98 L651.16,587.99 L651.71,587.99 L652.26,587.99 L652.81,587.99 L653.36,587.99 L653.91,587.99 L654.46,587.99 L655.01,587.99 L655.56,587.99 L656.11,587.99 L656.66,588.00 L657.21,588.00 L657.76,588.00 L658.30,588.00 L658.85,588.00 L659.40,588.00 L659.95,588.00 L660.50,588.00 L661.05,588.00 L661.60,588.00 L662.15,588.00 L662.70,588.00 L663.25,588.00 L663.80,588.00 L664.35,588.00 L664.90,588.00 L665.45,588.00 L666.00,588.00 L666.55,588.00 L667.10,588.00" fill="none" stroke="#e8875a" stroke-width="1.45"/>
<path d="M392.80,588.00 L393.35,587.96 L393.90,587.88 L394.45,587.80 L395.00,587.71 L395.55,587.62 L396.10,587.51 L396.65,587.40 L397.20,587.27 L397.75,587.13 L398.30,586.97 L398.85,586.77 L399.40,586.53 L399.95,586.25 L400.50,585.92 L401.05,585.52 L401.60,585.06 L402.14,584.52 L402.69,583.90 L403.24,583.18 L403.79,582.37 L404.34,581.45 L404.89,580.42 L405.44,579.26 L405.99,577.98 L406.54,576.56 L407.09,575.01 L407.64,573.36 L408.19,571.60 L408.74,569.76 L409.29,567.84 L409.84,565.86 L410.39,563.84 L410.94,561.79 L411.49,559.72 L412.04,557.62 L412.59,555.50 L413.14,553.34 L413.69,551.15 L414.24,548.91 L414.79,546.62 L415.34,544.27 L415.89,541.87 L416.44,539.40 L416.99,536.86 L417.54,534.24 L418.09,531.56 L418.64,528.83 L419.19,526.05 L419.74,523.23 L420.28,520.40 L420.83,517.55 L421.38,514.71 L421.93,511.87 L422.48,509.06 L423.03,506.28 L423.58,503.53 L424.13,500.81 L424.68,498.15 L425.23,495.54 L425.78,492.99 L426.33,490.50 L426.88,488.09 L427.43,485.75 L427.98,483.49 L428.53,481.31 L429.08,479.21 L429.63,477.19 L430.18,475.25 L430.73,473.40 L431.28,471.63 L431.83,469.95 L432.38,468.35 L432.93,466.85 L433.48,465.43 L434.03,464.10 L434.58,462.86 L435.13,461.71 L435.68,460.64 L436.23,459.65 L436.78,458.74 L437.33,457.90 L437.88,457.13 L438.43,456.43 L438.97,455.78 L439.52,455.20 L440.07,454.67 L440.62,454.19 L441.17,453.76 L441.72,453.37 L442.27,453.04 L442.82,452.74 L443.37,452.49 L443.92,452.29 L444.47,452.12 L445.02,451.98 L445.57,451.89 L446.12,451.83 L446.67,451.80 L447.22,451.80 L447.77,451.84 L448.32,451.92 L448.87,452.03 L449.42,452.19 L449.97,452.38 L450.52,452.63 L451.07,452.92 L451.62,453.26 L452.17,453.66 L452.72,454.11 L453.27,454.62 L453.82,455.18 L454.37,455.79 L454.92,456.46 L455.47,457.16 L456.02,457.92 L456.57,458.71 L457.11,459.53 L457.66,460.39 L458.21,461.28 L458.76,462.19 L459.31,463.12 L459.86,464.08 L460.41,465.04 L460.96,466.03 L461.51,467.02 L462.06,468.02 L462.61,469.03 L463.16,470.04 L463.71,471.06 L464.26,472.07 L464.81,473.08 L465.36,474.08 L465.91,475.08 L466.46,476.07 L467.01,477.04 L467.56,477.99 L468.11,478.92 L468.66,479.81 L469.21,480.68 L469.76,481.51 L470.31,482.29 L470.86,483.04 L471.41,483.75 L471.96,484.42 L472.51,485.06 L473.06,485.68 L473.61,486.27 L474.16,486.85 L474.71,487.41 L475.25,487.96 L475.80,488.50 L476.35,489.04 L476.90,489.58 L477.45,490.12 L478.00,490.67 L478.55,491.23 L479.10,491.81 L479.65,492.40 L480.20,493.00 L480.75,493.61 L481.30,494.23 L481.85,494.87 L482.40,495.52 L482.95,496.18 L483.50,496.85 L484.05,497.54 L484.60,498.23 L485.15,498.94 L485.70,499.66 L486.25,500.40 L486.80,501.14 L487.35,501.90 L487.90,502.66 L488.45,503.44 L489.00,504.23 L489.55,505.02 L490.10,505.83 L490.65,506.64 L491.20,507.46 L491.75,508.29 L492.30,509.12 L492.85,509.97 L493.39,510.81 L493.94,511.66 L494.49,512.52 L495.04,513.38 L495.59,514.24 L496.14,515.11 L496.69,515.97 L497.24,516.84 L497.79,517.72 L498.34,518.59 L498.89,519.46 L499.44,520.33 L499.99,521.20 L500.54,522.07 L501.09,522.94 L501.64,523.80 L502.19,524.67 L502.74,525.52 L503.29,526.38 L503.84,527.23 L504.39,528.07 L504.94,528.91 L505.49,529.75 L506.04,530.57 L506.59,531.39 L507.14,532.20 L507.69,533.00 L508.24,533.80 L508.79,534.58 L509.34,535.36 L509.89,536.12 L510.44,536.88 L510.99,537.63 L511.54,538.36 L512.08,539.09 L512.63,539.81 L513.18,540.52 L513.73,541.21 L514.28,541.90 L514.83,542.59 L515.38,543.26 L515.93,543.92 L516.48,544.58 L517.03,545.22 L517.58,545.86 L518.13,546.49 L518.68,547.11 L519.23,547.72 L519.78,548.32 L520.33,548.92 L520.88,549.51 L521.43,550.09 L521.98,550.66 L522.53,551.22 L523.08,551.78 L523.63,552.33 L524.18,552.87 L524.73,553.41 L525.28,553.94 L525.83,554.46 L526.38,554.97 L526.93,555.48 L527.48,555.98 L528.03,556.47 L528.58,556.96 L529.13,557.44 L529.68,557.92 L530.22,558.39 L530.77,558.85 L531.32,559.31 L531.87,559.76 L532.42,560.21 L532.97,560.65 L533.52,561.09 L534.07,561.52 L534.62,561.94 L535.17,562.36 L535.72,562.78 L536.27,563.19 L536.82,563.60 L537.37,564.00 L537.92,564.40 L538.47,564.79 L539.02,565.18 L539.57,565.56 L540.12,565.95 L540.67,566.32 L541.22,566.70 L541.77,567.07 L542.32,567.43 L542.87,567.79 L543.42,568.15 L543.97,568.50 L544.52,568.85 L545.07,569.20 L545.62,569.54 L546.17,569.88 L546.72,570.22 L547.27,570.55 L547.82,570.87 L548.36,571.19 L548.91,571.51 L549.46,571.82 L550.01,572.13 L550.56,572.44 L551.11,572.74 L551.66,573.04 L552.21,573.33 L552.76,573.62 L553.31,573.90 L553.86,574.18 L554.41,574.46 L554.96,574.73 L555.51,575.00 L556.06,575.26 L556.61,575.52 L557.16,575.77 L557.71,576.02 L558.26,576.27 L558.81,576.51 L559.36,576.74 L559.91,576.98 L560.46,577.20 L561.01,577.43 L561.56,577.65 L562.11,577.86 L562.66,578.07 L563.21,578.27 L563.76,578.47 L564.31,578.67 L564.86,578.86 L565.41,579.05 L565.96,579.24 L566.51,579.41 L567.05,579.59 L567.60,579.76 L568.15,579.93 L568.70,580.10 L569.25,580.26 L569.80,580.41 L570.35,580.57 L570.90,580.72 L571.45,580.86 L572.00,581.01 L572.55,581.15 L573.10,581.28 L573.65,581.42 L574.20,581.55 L574.75,581.67 L575.30,581.80 L575.85,581.92 L576.40,582.04 L576.95,582.15 L577.50,582.27 L578.05,582.38 L578.60,582.49 L579.15,582.59 L579.70,582.69 L580.25,582.79 L580.80,582.89 L581.35,582.99 L581.90,583.08 L582.45,583.17 L583.00,583.26 L583.55,583.35 L584.10,583.43 L584.65,583.52 L585.19,583.60 L585.74,583.68 L586.29,583.76 L586.84,583.83 L587.39,583.91 L587.94,583.98 L588.49,584.05 L589.04,584.12 L589.59,584.18 L590.14,584.25 L590.69,584.31 L591.24,584.38 L591.79,584.44 L592.34,584.50 L592.89,584.56 L593.44,584.62 L593.99,584.67 L594.54,584.73 L595.09,584.78 L595.64,584.83 L596.19,584.88 L596.74,584.93 L597.29,584.98 L597.84,585.03 L598.39,585.08 L598.94,585.12 L599.49,585.17 L600.04,585.21 L600.59,585.26 L601.14,585.30 L601.69,585.34 L602.24,585.38 L602.79,585.42 L603.33,585.46 L603.88,585.50 L604.43,585.54 L604.98,585.58 L605.53,585.62 L606.08,585.66 L606.63,585.69 L607.18,585.73 L607.73,585.77 L608.28,585.80 L608.83,585.84 L609.38,585.87 L609.93,585.91 L610.48,585.94 L611.03,585.97 L611.58,586.01 L612.13,586.04 L612.68,586.07 L613.23,586.11 L613.78,586.14 L614.33,586.17 L614.88,586.20 L615.43,586.23 L615.98,586.26 L616.53,586.29 L617.08,586.32 L617.63,586.36 L618.18,586.39 L618.73,586.42 L619.28,586.45 L619.83,586.48 L620.38,586.51 L620.93,586.54 L621.47,586.57 L622.02,586.59 L622.57,586.62 L623.12,586.65 L623.67,586.68 L624.22,586.71 L624.77,586.74 L625.32,586.77 L625.87,586.80 L626.42,586.83 L626.97,586.86 L627.52,586.89 L628.07,586.92 L628.62,586.95 L629.17,586.98 L629.72,587.01 L630.27,587.04 L630.82,587.07 L631.37,587.10 L631.92,587.12 L632.47,587.15 L633.02,587.18 L633.57,587.21 L634.12,587.24 L634.67,587.26 L635.22,587.29 L635.77,587.32 L636.32,587.34 L636.87,587.37 L637.42,587.39 L637.97,587.42 L638.52,587.44 L639.07,587.47 L639.62,587.49 L640.16,587.52 L640.71,587.54 L641.26,587.56 L641.81,587.58 L642.36,587.60 L642.91,587.62 L643.46,587.64 L644.01,587.66 L644.56,587.68 L645.11,587.70 L645.66,587.72 L646.21,587.73 L646.76,587.75 L647.31,587.76 L647.86,587.78 L648.41,587.79 L648.96,587.81 L649.51,587.82 L650.06,587.83 L650.61,587.84 L651.16,587.85 L651.71,587.86 L652.26,587.87 L652.81,587.88 L653.36,587.89 L653.91,587.90 L654.46,587.91 L655.01,587.91 L655.56,587.92 L656.11,587.93 L656.66,587.93 L657.21,587.94 L657.76,587.94 L658.30,587.95 L658.85,587.95 L659.40,587.96 L659.95,587.96 L660.50,587.97 L661.05,587.97 L661.60,587.97 L662.15,587.98 L662.70,587.98 L663.25,587.98 L663.80,587.98 L664.35,587.99 L664.90,587.99 L665.45,587.99 L666.00,588.00 L666.55,588.00 L667.10,588.00" fill="none" stroke="#4ea55a" stroke-width="1.45"/>
<text x="551.70" y="409.03" font-size="9.6" text-anchor="middle" fill="#231f20" stroke="#231f20" stroke-width="0.08">LC-MS method</text>
<text x="637.60" y="403.43" font-size="9.6" text-anchor="middle" fill="#231f20" stroke="#231f20" stroke-width="0.08">Dynamic</text>
<text x="637.60" y="415.43" font-size="9.6" text-anchor="middle" fill="#231f20" stroke="#231f20" stroke-width="0.08">range, 95%</text>
<line x1="505.60" y1="426.80" x2="514.00" y2="426.80" stroke="#222" stroke-width="1.1"/>
<text x="518.30" y="430.23" font-size="9.6" text-anchor="start" fill="#231f20" stroke="#231f20" stroke-width="0.08">Nano-MS2-15 min</text>
<text x="654.20" y="430.23" font-size="9.6" text-anchor="end" fill="#231f20" stroke="#231f20" stroke-width="0.08">1:53</text>
<line x1="505.60" y1="438.40" x2="514.00" y2="438.40" stroke="#6f88c8" stroke-width="1.1"/>
<text x="518.30" y="441.83" font-size="9.6" text-anchor="start" fill="#231f20" stroke="#231f20" stroke-width="0.08">Micro-MS2-15 min</text>
<text x="654.20" y="441.83" font-size="9.6" text-anchor="end" fill="#231f20" stroke="#231f20" stroke-width="0.08">1:73</text>
<line x1="505.60" y1="450.00" x2="514.00" y2="450.00" stroke="#e89c7c" stroke-width="1.1"/>
<text x="518.30" y="453.43" font-size="9.6" text-anchor="start" fill="#231f20" stroke="#231f20" stroke-width="0.08">Micro-MS3-15 min</text>
<text x="654.20" y="453.43" font-size="9.6" text-anchor="end" fill="#231f20" stroke="#231f20" stroke-width="0.08">1:96</text>
<line x1="505.60" y1="461.60" x2="514.00" y2="461.60" stroke="#6aaa7a" stroke-width="1.1"/>
<text x="518.30" y="465.03" font-size="9.6" text-anchor="start" fill="#231f20" stroke="#231f20" stroke-width="0.08">Micro-MS3-25 min</text>
<text x="654.20" y="465.03" font-size="9.6" text-anchor="end" fill="#231f20" stroke="#231f20" stroke-width="0.08">1:152</text>
<text x="586.10" y="483.83" font-size="9.6" text-anchor="middle" fill="#231f20" stroke="#231f20" stroke-width="0.08">Human cell lines</text>
<ellipse cx="530.50" cy="495.90" rx="6.5" ry="4.1" fill="#fafafa" stroke="#a8a8a8" stroke-width="0.55"/>
<ellipse cx="530.50" cy="498.10" rx="6.3" ry="4.3" fill="#6aa7d8" stroke="#4a7497" stroke-width="0.5"/>
<ellipse cx="552.70" cy="495.90" rx="6.5" ry="4.1" fill="#fafafa" stroke="#a8a8a8" stroke-width="0.55"/>
<ellipse cx="552.70" cy="498.10" rx="6.3" ry="4.3" fill="#87be4b" stroke="#5e8534" stroke-width="0.5"/>
<ellipse cx="575.00" cy="495.90" rx="6.5" ry="4.1" fill="#fafafa" stroke="#a8a8a8" stroke-width="0.55"/>
<ellipse cx="575.00" cy="498.10" rx="6.3" ry="4.3" fill="#f2b51c" stroke="#a97e13" stroke-width="0.5"/>
<ellipse cx="597.30" cy="495.90" rx="6.5" ry="4.1" fill="#fafafa" stroke="#a8a8a8" stroke-width="0.55"/>
<ellipse cx="597.30" cy="498.10" rx="6.3" ry="4.3" fill="#b8cfea" stroke="#8090a3" stroke-width="0.5"/>
<ellipse cx="618.80" cy="495.90" rx="6.5" ry="4.1" fill="#fafafa" stroke="#a8a8a8" stroke-width="0.55"/>
<ellipse cx="618.80" cy="498.10" rx="6.3" ry="4.3" fill="#6d6e70" stroke="#4c4d4e" stroke-width="0.5"/>
<ellipse cx="641.10" cy="495.90" rx="6.5" ry="4.1" fill="#fafafa" stroke="#a8a8a8" stroke-width="0.55"/>
<ellipse cx="641.10" cy="498.10" rx="6.3" ry="4.3" fill="#f0a878" stroke="#a87554" stroke-width="0.5"/>
<ellipse cx="540.90" cy="506.60" rx="6.5" ry="4.1" fill="#fafafa" stroke="#a8a8a8" stroke-width="0.55"/>
<ellipse cx="540.90" cy="508.80" rx="6.3" ry="4.3" fill="#3b3393" stroke="#292366" stroke-width="0.5"/>
<ellipse cx="563.60" cy="506.60" rx="6.5" ry="4.1" fill="#fafafa" stroke="#a8a8a8" stroke-width="0.55"/>
<ellipse cx="563.60" cy="508.80" rx="6.3" ry="4.3" fill="#e0252b" stroke="#9c191e" stroke-width="0.5"/>
<ellipse cx="585.90" cy="506.60" rx="6.5" ry="4.1" fill="#fafafa" stroke="#a8a8a8" stroke-width="0.55"/>
<ellipse cx="585.90" cy="508.80" rx="6.3" ry="4.3" fill="#6a2c91" stroke="#4a1e65" stroke-width="0.5"/>
<ellipse cx="610.10" cy="506.60" rx="6.5" ry="4.1" fill="#fafafa" stroke="#a8a8a8" stroke-width="0.55"/>
<ellipse cx="610.10" cy="508.80" rx="6.3" ry="4.3" fill="#1c6db5" stroke="#134c7e" stroke-width="0.5"/>
<ellipse cx="632.40" cy="506.60" rx="6.5" ry="4.1" fill="#fafafa" stroke="#a8a8a8" stroke-width="0.55"/>
<ellipse cx="632.40" cy="508.80" rx="6.3" ry="4.3" fill="#1fa049" stroke="#157033" stroke-width="0.5"/>
<path d="M585.6,517.2 L592.9,517.2 L592.9,526.4 L596.2,526.4 L589.25,533.8 L582.4,526.4 L585.6,526.4 Z" fill="#fff" stroke="#333" stroke-width="0.75" stroke-linejoin="miter"/>
<text x="592.00" y="546.03" font-size="9.6" text-anchor="middle" fill="#231f20" stroke="#231f20" stroke-width="0.08">TMT 11 labeling,</text>
<text x="592.00" y="557.13" font-size="9.6" text-anchor="middle" fill="#231f20" stroke="#231f20" stroke-width="0.08">off-line 48 fractions</text>
</svg></body></html>
